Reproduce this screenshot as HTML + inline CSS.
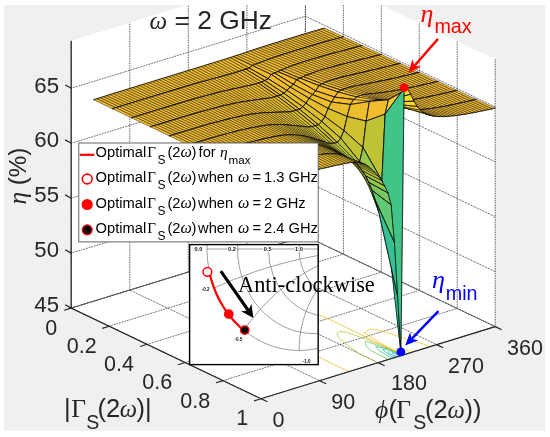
<!DOCTYPE html>
<html><head><meta charset="utf-8"><title>plot</title>
<style>html,body{margin:0;padding:0;background:#fff;overflow:hidden}svg{display:block}.g{stroke-width:.55;fill:none;stroke-linecap:round}</style>
</head><body>
<svg width="550" height="437" viewBox="0 0 550 437">
<rect x="0" y="0" width="550" height="437" fill="#fff"/>
<rect x="4" y="5" width="541" height="426" fill="#f0f0f0"/>
<defs><clipPath id="fig"><rect x="4" y="5" width="541" height="426"/></clipPath></defs>
<g clip-path="url(#fig)">
<polygon points="71.2,40.7 71.2,308.1 261,398.7 495.2,326.6 495.2,59.2 305.4,-31.4" fill="#fff"/>
<path d="M71.2 308.1L305.4 236M305.4 236L305.4 -31.4M109.2 326.2L343.4 254.1M343.4 254.1L343.4 -13.3M147.1 344.3L381.3 272.2M381.3 272.2L381.3 4.9M185.1 362.5L419.3 290.4M419.3 290.4L419.3 23M223 380.6L457.2 308.5M457.2 308.5L457.2 41.1M261 398.7L495.2 326.6M495.2 326.6L495.2 59.2M71.2 308.1L261 398.7M71.2 308.1L71.2 40.7M129.8 290.1L319.6 380.7M129.8 290.1L129.8 22.7M188.3 272.1L378.1 362.7M188.3 272.1L188.3 4.7M246.9 254L436.6 344.6M246.9 254L246.9 -13.4M305.4 236L495.2 326.6M305.4 236L305.4 -31.4M71.2 308.1L305.4 236M305.4 236L495.2 326.6M71.2 253.2L305.4 181.1M305.4 181.1L495.2 271.7M71.2 198.2L305.4 126.1M305.4 126.1L495.2 216.7M71.2 143.3L305.4 71.2M305.4 71.2L495.2 161.8M71.2 88.3L305.4 16.2M305.4 16.2L495.2 106.8" fill="none" stroke="#2a2a2a" stroke-width="0.9" stroke-dasharray="0.85 0.85"/>
<path d="M71.2 308.1L305.4 236" fill="none" stroke="#505050" stroke-width="0.9"/><path d="M305.4 236L495.2 326.6" fill="none" stroke="#666" stroke-width="0.75"/>
<polyline points="401.2,355.5 397.4,354 399.2,356.2" fill="none" stroke="#4559f4" stroke-width="0.8"/><polyline points="401.5,355.4 394.8,352.8 397.9,356.5" fill="none" stroke="#2f85f7" stroke-width="0.8"/><polyline points="401.8,355.4 392.3,351.5 393.5,354.7 396.6,356.9" fill="none" stroke="#18a8dd" stroke-width="0.8"/><polyline points="402.1,355.3 389.7,350.3 388,352 395.3,357.3" fill="none" stroke="#1bbcbc" stroke-width="0.8"/><polyline points="402.3,355.2 387.1,349.1 382.5,349.4 391.2,356.1 393.9,357.8" fill="none" stroke="#26bea6" stroke-width="0.8"/><polyline points="402.6,355.1 384.6,347.9 379.4,347.4 375.6,346.1 376.9,348.1 378.5,350.1 392,358.4" fill="none" stroke="#37c592" stroke-width="0.8"/><polyline points="402.9,355 382,346.6 381.8,346.6 365.3,341.2 364.8,343.5 367.1,347.2 370.1,350.2 388.4,359.5" fill="none" stroke="#6fca66" stroke-width="0.8"/><polyline points="403.1,354.9 382.9,346.3 365.5,338.8 362.1,337.8 346.5,332.2 339.5,331.5 337.5,333 337.2,335.5 340.7,339.7 344.9,343.1 347.8,345.6 359.4,353.5 372.1,359.8 378,362.7" fill="none" stroke="#b6c339" stroke-width="0.8"/><polyline points="403.4,354.9 384,345.9 365.3,336.8 346.6,327.6 327.7,318.6 307.4,309.9 297.2,306.2 285,302.9 282.7,302.6 277.5,301.9 274.3,302.9 271,303.9 268.9,305.4 268.6,306.9 268.2,307.7 267.6,309.9 267.2,312.2 267.4,314.9 268.2,317.9 270.1,321.3 270.1,321.4 272.2,324.9 275.4,328.9 279.4,333.4 279.4,333.4 289.2,340.7 293.9,343.8 311.5,353.3 329.9,362.6 349.1,371.6" fill="none" stroke="#e8be2c" stroke-width="0.8"/><polyline points="403.7,354.8 385.1,345.6 384.4,345.2 368.8,335.7 364.2,333 366.6,331.6 367.6,329.5 372.2,329.2 380.5,330.6 383.2,331.3 395.4,335.2 406.4,339 412.9,341 427.3,345.3 431,346.4" fill="none" stroke="#fac832" stroke-width="0.8"/><polyline points="404,354.7 396.8,351.1 396,348.2 403,349 413,351.9" fill="none" stroke="#f5eb23" stroke-width="0.8"/>
<g stroke="#000" stroke-width="0.45" stroke-linejoin="round"><polygon points="321.1,29 340.1,37.7 343.4,36.8 324.4,28.1" fill="#f4bd2e"/><path class="g" d="M321.1 29L324.4 28.1M340.1 37.7L343.4 36.8"/><polygon points="340.1,37.7 359.1,46.4 362.3,45.6 343.4,36.8" fill="#f4bd2e"/><path class="g" d="M340.1 37.7L343.4 36.8M359.1 46.4L362.3 45.6"/><polygon points="359.1,46.4 378.1,55.3 381.3,54.5 362.3,45.6" fill="#f4bd2e"/><path class="g" d="M359.1 46.4L362.3 45.6M378.1 55.3L381.3 54.5"/><polygon points="378.1,55.3 397,64.2 400.3,63.4 381.3,54.5" fill="#f4bd2e"/><path class="g" d="M378.1 55.3L381.3 54.5M397 64.2L400.3 63.4"/><polygon points="397,64.2 416,73.1 419.3,72.4 400.3,63.4" fill="#f5bd2f"/><path class="g" d="M397 64.2L400.3 63.4M416 73.1L419.3 72.4"/><polygon points="416,73.1 435,82.1 438.3,81.4 419.3,72.4" fill="#f5bd2f"/><path class="g" d="M416 73.1L419.3 72.4M435 82.1L438.3 81.4"/><polygon points="435,82.1 454,91.1 457.2,90.4 438.3,81.4" fill="#f5be2f"/><path class="g" d="M435 82.1L438.3 81.4M454 91.1L457.2 90.4"/><polygon points="454,91.1 473,100.2 476.2,99.4 457.2,90.4" fill="#f5be2f"/><path class="g" d="M454 91.1L457.2 90.4M473 100.2L476.2 99.4"/><polygon points="473,100.2 491.9,108.9 495.2,108.1 476.2,99.4" fill="#f5be2f"/><path class="g" d="M473 100.2L476.2 99.4M491.9 108.9L495.2 108.1"/><polygon points="317.9,30 336.9,38.6 340.1,37.7 321.1,29" fill="#f4bd2e"/><path class="g" d="M317.9 30L321.1 29M336.9 38.6L340.1 37.7"/><polygon points="336.9,38.6 355.8,47.3 359.1,46.4 340.1,37.7" fill="#f4bd2e"/><path class="g" d="M336.9 38.6L340.1 37.7M355.8 47.3L359.1 46.4"/><polygon points="355.8,47.3 374.8,56.1 378.1,55.3 359.1,46.4" fill="#f4bd2e"/><path class="g" d="M355.8 47.3L359.1 46.4M374.8 56.1L378.1 55.3"/><polygon points="374.8,56.1 393.8,65 397,64.2 378.1,55.3" fill="#f5bd2f"/><path class="g" d="M374.8 56.1L378.1 55.3M393.8 65L397 64.2"/><polygon points="393.8,65 412.8,73.9 416,73.1 397,64.2" fill="#f5be2f"/><path class="g" d="M393.8 65L397 64.2M412.8 73.9L416 73.1"/><polygon points="412.8,73.9 431.8,82.9 435,82.1 416,73.1" fill="#f5be2f"/><path class="g" d="M412.8 73.9L416 73.1M431.8 82.9L435 82.1"/><polygon points="431.8,82.9 450.7,91.9 454,91.1 435,82.1" fill="#f5be2f"/><path class="g" d="M431.8 82.9L435 82.1M450.7 91.9L454 91.1"/><polygon points="450.7,91.9 469.7,100.9 473,100.2 454,91.1" fill="#f5be2f"/><path class="g" d="M450.7 91.9L454 91.1M469.7 100.9L473 100.2"/><polygon points="469.7,100.9 488.7,109.6 491.9,108.9 473,100.2" fill="#f5be2f"/><path class="g" d="M469.7 100.9L473 100.2M488.7 109.6L491.9 108.9"/><polygon points="314.6,30.9 333.6,39.5 336.9,38.6 317.9,30" fill="#f4bd2e"/><path class="g" d="M314.6 30.9L317.9 30M333.6 39.5L336.9 38.6"/><polygon points="333.6,39.5 352.6,48.2 355.8,47.3 336.9,38.6" fill="#f4bd2e"/><path class="g" d="M333.6 39.5L336.9 38.6M352.6 48.2L355.8 47.3"/><polygon points="352.6,48.2 371.6,56.9 374.8,56.1 355.8,47.3" fill="#f5bd2f"/><path class="g" d="M352.6 48.2L355.8 47.3M371.6 56.9L374.8 56.1"/><polygon points="371.6,56.9 390.5,65.8 393.8,65 374.8,56.1" fill="#f5be2f"/><path class="g" d="M371.6 56.9L374.8 56.1M390.5 65.8L393.8 65"/><polygon points="390.5,65.8 409.5,74.7 412.8,73.9 393.8,65" fill="#f5be2f"/><path class="g" d="M390.5 65.8L393.8 65M409.5 74.7L412.8 73.9"/><polygon points="409.5,74.7 428.5,83.7 431.8,82.9 412.8,73.9" fill="#f5be2f"/><path class="g" d="M409.5 74.7L412.8 73.9M428.5 83.7L431.8 82.9"/><polygon points="428.5,83.7 447.5,92.7 450.7,91.9 431.8,82.9" fill="#f5be2f"/><path class="g" d="M428.5 83.7L431.8 82.9M447.5 92.7L450.7 91.9"/><polygon points="447.5,92.7 466.5,101.7 469.7,100.9 450.7,91.9" fill="#f5be2f"/><path class="g" d="M447.5 92.7L450.7 91.9M466.5 101.7L469.7 100.9"/><polygon points="466.5,101.7 485.4,110.3 488.7,109.6 469.7,100.9" fill="#f5be2f"/><path class="g" d="M466.5 101.7L469.7 100.9M485.4 110.3L488.7 109.6"/><polygon points="311.4,31.9 330.3,40.4 333.6,39.5 314.6,30.9" fill="#f4bd2e"/><path class="g" d="M311.4 31.9L314.6 30.9M330.3 40.4L333.6 39.5"/><polygon points="330.3,40.4 349.3,49 352.6,48.2 333.6,39.5" fill="#f4bd2e"/><path class="g" d="M330.3 40.4L333.6 39.5M349.3 49L352.6 48.2"/><polygon points="349.3,49 368.3,57.8 371.6,56.9 352.6,48.2" fill="#f5bd2f"/><path class="g" d="M349.3 49L352.6 48.2M368.3 57.8L371.6 56.9"/><polygon points="368.3,57.8 387.3,66.6 390.5,65.8 371.6,56.9" fill="#f5be2f"/><path class="g" d="M368.3 57.8L371.6 56.9M387.3 66.6L390.5 65.8"/><polygon points="387.3,66.6 406.3,75.5 409.5,74.7 390.5,65.8" fill="#f5be2f"/><path class="g" d="M387.3 66.6L390.5 65.8M406.3 75.5L409.5 74.7"/><polygon points="406.3,75.5 425.2,84.4 428.5,83.7 409.5,74.7" fill="#f5be2f"/><path class="g" d="M406.3 75.5L409.5 74.7M425.2 84.4L428.5 83.7"/><polygon points="425.2,84.4 444.2,93.4 447.5,92.7 428.5,83.7" fill="#f5be2f"/><path class="g" d="M425.2 84.4L428.5 83.7M444.2 93.4L447.5 92.7"/><polygon points="444.2,93.4 463.2,102.4 466.5,101.7 447.5,92.7" fill="#f5be2f"/><path class="g" d="M444.2 93.4L447.5 92.7M463.2 102.4L466.5 101.7"/><polygon points="463.2,102.4 482.2,110.9 485.4,110.3 466.5,101.7" fill="#f5be2f"/><path class="g" d="M463.2 102.4L466.5 101.7M482.2 110.9L485.4 110.3"/><polygon points="308.1,32.8 327.1,41.3 330.3,40.4 311.4,31.9" fill="#f4bd2e"/><path class="g" d="M308.1 32.8L311.4 31.9M327.1 41.3L330.3 40.4"/><polygon points="327.1,41.3 346.1,49.9 349.3,49 330.3,40.4" fill="#f4bd2e"/><path class="g" d="M327.1 41.3L330.3 40.4M346.1 49.9L349.3 49"/><polygon points="346.1,49.9 365.1,58.6 368.3,57.8 349.3,49" fill="#f5be2f"/><path class="g" d="M346.1 49.9L349.3 49M365.1 58.6L368.3 57.8"/><polygon points="365.1,58.6 384,67.4 387.3,66.6 368.3,57.8" fill="#f5be2f"/><path class="g" d="M365.1 58.6L368.3 57.8M384 67.4L387.3 66.6"/><polygon points="384,67.4 403,76.2 406.3,75.5 387.3,66.6" fill="#f5be2f"/><path class="g" d="M384 67.4L387.3 66.6M403 76.2L406.3 75.5"/><polygon points="403,76.2 422,85.2 425.2,84.4 406.3,75.5" fill="#f5be2f"/><path class="g" d="M403 76.2L406.3 75.5M422 85.2L425.2 84.4"/><polygon points="422,85.2 441,94.1 444.2,93.4 425.2,84.4" fill="#f5be2f"/><path class="g" d="M422 85.2L425.2 84.4M441 94.1L444.2 93.4"/><polygon points="441,94.1 460,103.1 463.2,102.4 444.2,93.4" fill="#f5be2f"/><path class="g" d="M441 94.1L444.2 93.4M460 103.1L463.2 102.4"/><polygon points="460,103.1 478.9,111.6 482.2,110.9 463.2,102.4" fill="#f5be2f"/><path class="g" d="M460 103.1L463.2 102.4M478.9 111.6L482.2 110.9"/><polygon points="304.9,33.8 323.8,42.2 327.1,41.3 308.1,32.8" fill="#f4bd2e"/><path class="g" d="M304.9 33.8L308.1 32.8M323.8 42.2L327.1 41.3"/><polygon points="323.8,42.2 342.8,50.7 346.1,49.9 327.1,41.3" fill="#f4bd2e"/><path class="g" d="M323.8 42.2L327.1 41.3M342.8 50.7L346.1 49.9"/><polygon points="342.8,50.7 361.8,59.4 365.1,58.6 346.1,49.9" fill="#f5be2f"/><path class="g" d="M342.8 50.7L346.1 49.9M361.8 59.4L365.1 58.6"/><polygon points="361.8,59.4 380.8,68.1 384,67.4 365.1,58.6" fill="#f5be2f"/><path class="g" d="M361.8 59.4L365.1 58.6M380.8 68.1L384 67.4"/><polygon points="380.8,68.1 399.8,77 403,76.2 384,67.4" fill="#f5be2f"/><path class="g" d="M380.8 68.1L384 67.4M399.8 77L403 76.2"/><polygon points="399.8,77 418.7,85.9 422,85.2 403,76.2" fill="#f5be2f"/><path class="g" d="M399.8 77L403 76.2M418.7 85.9L422 85.2"/><polygon points="418.7,85.9 437.7,94.8 441,94.1 422,85.2" fill="#f6be30"/><path class="g" d="M418.7 85.9L422 85.2M437.7 94.8L441 94.1"/><polygon points="437.7,94.8 456.7,103.8 460,103.1 441,94.1" fill="#f6be30"/><path class="g" d="M437.7 94.8L441 94.1M456.7 103.8L460 103.1"/><polygon points="456.7,103.8 475.7,112.3 478.9,111.6 460,103.1" fill="#f6be30"/><path class="g" d="M456.7 103.8L460 103.1M475.7 112.3L478.9 111.6"/><polygon points="301.6,34.7 320.6,43.1 323.8,42.2 304.9,33.8" fill="#f4bd2e"/><path class="g" d="M301.6 34.7L304.9 33.8M320.6 43.1L323.8 42.2"/><polygon points="320.6,43.1 339.6,51.6 342.8,50.7 323.8,42.2" fill="#f5bd2f"/><path class="g" d="M320.6 43.1L323.8 42.2M339.6 51.6L342.8 50.7"/><polygon points="339.6,51.6 358.6,60.2 361.8,59.4 342.8,50.7" fill="#f5be2f"/><path class="g" d="M339.6 51.6L342.8 50.7M358.6 60.2L361.8 59.4"/><polygon points="358.6,60.2 377.5,68.9 380.8,68.1 361.8,59.4" fill="#f5be2f"/><path class="g" d="M358.6 60.2L361.8 59.4M377.5 68.9L380.8 68.1"/><polygon points="377.5,68.9 396.5,77.7 399.8,77 380.8,68.1" fill="#f5be2f"/><path class="g" d="M377.5 68.9L380.8 68.1M396.5 77.7L399.8 77"/><polygon points="396.5,77.7 415.5,86.6 418.7,85.9 399.8,77" fill="#f6be30"/><path class="g" d="M396.5 77.7L399.8 77M415.5 86.6L418.7 85.9"/><polygon points="415.5,86.6 434.5,95.5 437.7,94.8 418.7,85.9" fill="#f6be30"/><path class="g" d="M415.5 86.6L418.7 85.9M434.5 95.5L437.7 94.8"/><polygon points="434.5,95.5 453.5,104.5 456.7,103.8 437.7,94.8" fill="#f6be30"/><path class="g" d="M434.5 95.5L437.7 94.8M453.5 104.5L456.7 103.8"/><polygon points="453.5,104.5 472.4,112.9 475.7,112.3 456.7,103.8" fill="#f6be30"/><path class="g" d="M453.5 104.5L456.7 103.8M472.4 112.9L475.7 112.3"/><polygon points="298.4,35.7 317.3,44 320.6,43.1 301.6,34.7" fill="#f4bd2e"/><path class="g" d="M298.4 35.7L301.6 34.7M317.3 44L320.6 43.1"/><polygon points="317.3,44 336.3,52.5 339.6,51.6 320.6,43.1" fill="#f5bd2f"/><path class="g" d="M317.3 44L320.6 43.1M336.3 52.5L339.6 51.6"/><polygon points="336.3,52.5 355.3,61 358.6,60.2 339.6,51.6" fill="#f5be2f"/><path class="g" d="M336.3 52.5L339.6 51.6M355.3 61L358.6 60.2"/><polygon points="355.3,61 374.3,69.7 377.5,68.9 358.6,60.2" fill="#f5be2f"/><path class="g" d="M355.3 61L358.6 60.2M374.3 69.7L377.5 68.9"/><polygon points="374.3,69.7 393.3,78.5 396.5,77.7 377.5,68.9" fill="#f6be30"/><path class="g" d="M374.3 69.7L377.5 68.9M393.3 78.5L396.5 77.7"/><polygon points="393.3,78.5 412.2,87.3 415.5,86.6 396.5,77.7" fill="#f6be30"/><path class="g" d="M393.3 78.5L396.5 77.7M412.2 87.3L415.5 86.6"/><polygon points="412.2,87.3 431.2,96.2 434.5,95.5 415.5,86.6" fill="#f6be30"/><path class="g" d="M412.2 87.3L415.5 86.6M431.2 96.2L434.5 95.5"/><polygon points="431.2,96.2 450.2,105.2 453.5,104.5 434.5,95.5" fill="#f6be30"/><path class="g" d="M431.2 96.2L434.5 95.5M450.2 105.2L453.5 104.5"/><polygon points="450.2,105.2 469.2,113.5 472.4,112.9 453.5,104.5" fill="#f6be30"/><path class="g" d="M450.2 105.2L453.5 104.5M469.2 113.5L472.4 112.9"/><polygon points="295.1,36.7 314.1,45 317.3,44 298.4,35.7" fill="#f4bd2e"/><path class="g" d="M295.1 36.7L298.4 35.7M314.1 45L317.3 44"/><polygon points="314.1,45 333.1,53.3 336.3,52.5 317.3,44" fill="#f5bd2f"/><path class="g" d="M314.1 45L317.3 44M333.1 53.3L336.3 52.5"/><polygon points="333.1,53.3 352,61.8 355.3,61 336.3,52.5" fill="#f5be2f"/><path class="g" d="M333.1 53.3L336.3 52.5M352 61.8L355.3 61"/><polygon points="352,61.8 371,70.4 374.3,69.7 355.3,61" fill="#f5be2f"/><path class="g" d="M352 61.8L355.3 61M371 70.4L374.3 69.7"/><polygon points="371,70.4 390,79.2 393.3,78.5 374.3,69.7" fill="#f6be30"/><path class="g" d="M371 70.4L374.3 69.7M390 79.2L393.3 78.5"/><polygon points="390,79.2 409,88 412.2,87.3 393.3,78.5" fill="#f6be30"/><path class="g" d="M390 79.2L393.3 78.5M409 88L412.2 87.3"/><polygon points="409,88 428,96.9 431.2,96.2 412.2,87.3" fill="#f6be30"/><path class="g" d="M409 88L412.2 87.3M428 96.9L431.2 96.2"/><polygon points="428,96.9 446.9,105.9 450.2,105.2 431.2,96.2" fill="#f6be30"/><path class="g" d="M428 96.9L431.2 96.2M446.9 105.9L450.2 105.2"/><polygon points="446.9,105.9 465.9,114.1 469.2,113.5 450.2,105.2" fill="#f6be30"/><path class="g" d="M446.9 105.9L450.2 105.2M465.9 114.1L469.2 113.5"/><polygon points="291.9,37.7 310.8,45.9 314.1,45 295.1,36.7" fill="#f4bd2e"/><path class="g" d="M291.9 37.7L295.1 36.7M310.8 45.9L314.1 45"/><polygon points="310.8,45.9 329.8,54.2 333.1,53.3 314.1,45" fill="#f5bd2f"/><path class="g" d="M310.8 45.9L314.1 45M329.8 54.2L333.1 53.3"/><polygon points="329.8,54.2 348.8,62.6 352,61.8 333.1,53.3" fill="#f5be2f"/><path class="g" d="M329.8 54.2L333.1 53.3M348.8 62.6L352 61.8"/><polygon points="348.8,62.6 367.8,71.2 371,70.4 352,61.8" fill="#f6be30"/><path class="g" d="M348.8 62.6L352 61.8M367.8 71.2L371 70.4"/><polygon points="367.8,71.2 386.8,79.9 390,79.2 371,70.4" fill="#f6be30"/><path class="g" d="M367.8 71.2L371 70.4M386.8 79.9L390 79.2"/><polygon points="386.8,79.9 405.7,88.7 409,88 390,79.2" fill="#f6be30"/><path class="g" d="M386.8 79.9L390 79.2M405.7 88.7L409 88"/><polygon points="405.7,88.7 424.7,97.5 428,96.9 409,88" fill="#f6be30"/><path class="g" d="M405.7 88.7L409 88M424.7 97.5L428 96.9"/><polygon points="424.7,97.5 443.7,106.5 446.9,105.9 428,96.9" fill="#f7bf31"/><path class="g" d="M424.7 97.5L428 96.9M443.7 106.5L446.9 105.9"/><polygon points="443.7,106.5 462.7,114.6 465.9,114.1 446.9,105.9" fill="#f7bf31"/><path class="g" d="M443.7 106.5L446.9 105.9M462.7 114.6L465.9 114.1"/><polygon points="288.6,38.7 307.6,46.8 310.8,45.9 291.9,37.7" fill="#f4bd2e"/><path class="g" d="M288.6 38.7L291.9 37.7M307.6 46.8L310.8 45.9"/><polygon points="307.6,46.8 326.6,55.1 329.8,54.2 310.8,45.9" fill="#f5be2f"/><path class="g" d="M307.6 46.8L310.8 45.9M326.6 55.1L329.8 54.2"/><polygon points="326.6,55.1 345.5,63.5 348.8,62.6 329.8,54.2" fill="#f5be2f"/><path class="g" d="M326.6 55.1L329.8 54.2M345.5 63.5L348.8 62.6"/><polygon points="345.5,63.5 364.5,72 367.8,71.2 348.8,62.6" fill="#f6be30"/><path class="g" d="M345.5 63.5L348.8 62.6M364.5 72L367.8 71.2"/><polygon points="364.5,72 383.5,80.6 386.8,79.9 367.8,71.2" fill="#f6be30"/><path class="g" d="M364.5 72L367.8 71.2M383.5 80.6L386.8 79.9"/><polygon points="383.5,80.6 402.5,89.3 405.7,88.7 386.8,79.9" fill="#f6be30"/><path class="g" d="M383.5 80.6L386.8 79.9M402.5 89.3L405.7 88.7"/><polygon points="402.5,89.3 421.5,98.1 424.7,97.5 405.7,88.7" fill="#f7bf31"/><path class="g" d="M402.5 89.3L405.7 88.7M421.5 98.1L424.7 97.5"/><polygon points="421.5,98.1 440.4,107.1 443.7,106.5 424.7,97.5" fill="#f7bf31"/><path class="g" d="M421.5 98.1L424.7 97.5M440.4 107.1L443.7 106.5"/><polygon points="440.4,107.1 459.4,115.1 462.7,114.6 443.7,106.5" fill="#f7bf31"/><path class="g" d="M440.4 107.1L443.7 106.5M459.4 115.1L462.7 114.6"/><polygon points="285.3,39.7 304.3,47.8 307.6,46.8 288.6,38.7" fill="#f4bd2e"/><path class="g" d="M285.3 39.7L288.6 38.7M304.3 47.8L307.6 46.8"/><polygon points="304.3,47.8 323.3,56 326.6,55.1 307.6,46.8" fill="#f5be2f"/><path class="g" d="M304.3 47.8L307.6 46.8M323.3 56L326.6 55.1"/><polygon points="323.3,56 342.3,64.3 345.5,63.5 326.6,55.1" fill="#f5be2f"/><path class="g" d="M323.3 56L326.6 55.1M342.3 64.3L345.5 63.5"/><polygon points="342.3,64.3 361.3,72.7 364.5,72 345.5,63.5" fill="#f6be30"/><path class="g" d="M342.3 64.3L345.5 63.5M361.3 72.7L364.5 72"/><polygon points="361.3,72.7 380.2,81.2 383.5,80.6 364.5,72" fill="#f6be30"/><path class="g" d="M361.3 72.7L364.5 72M380.2 81.2L383.5 80.6"/><polygon points="380.2,81.2 399.2,89.9 402.5,89.3 383.5,80.6" fill="#f7bf31"/><path class="g" d="M380.2 81.2L383.5 80.6M399.2 89.9L402.5 89.3"/><polygon points="399.2,89.9 418.2,98.7 421.5,98.1 402.5,89.3" fill="#f7bf31"/><path class="g" d="M399.2 89.9L402.5 89.3M418.2 98.7L421.5 98.1"/><polygon points="418.2,98.7 437.2,107.6 440.4,107.1 421.5,98.1" fill="#f7bf31"/><path class="g" d="M418.2 98.7L421.5 98.1M437.2 107.6L440.4 107.1"/><polygon points="437.2,107.6 456.2,115.5 459.4,115.1 440.4,107.1" fill="#f7bf31"/><path class="g" d="M437.2 107.6L440.4 107.1M456.2 115.5L459.4 115.1"/><polygon points="282.1,40.7 301.1,48.8 304.3,47.8 285.3,39.7" fill="#f4bd2e"/><path class="g" d="M282.1 40.7L285.3 39.7M301.1 48.8L304.3 47.8"/><polygon points="301.1,48.8 320.1,56.9 323.3,56 304.3,47.8" fill="#f5be2f"/><path class="g" d="M301.1 48.8L304.3 47.8M320.1 56.9L323.3 56"/><polygon points="320.1,56.9 339,65.1 342.3,64.3 323.3,56" fill="#f5be2f"/><path class="g" d="M320.1 56.9L323.3 56M339 65.1L342.3 64.3"/><polygon points="339,65.1 358,73.4 361.3,72.7 342.3,64.3" fill="#f6be30"/><path class="g" d="M339 65.1L342.3 64.3M358 73.4L361.3 72.7"/><polygon points="358,73.4 377,81.9 380.2,81.2 361.3,72.7" fill="#f6be30"/><path class="g" d="M358 73.4L361.3 72.7M377 81.9L380.2 81.2"/><polygon points="377,81.9 396,90.5 399.2,89.9 380.2,81.2" fill="#f7bf31"/><path class="g" d="M377 81.9L380.2 81.2M396 90.5L399.2 89.9"/><polygon points="396,90.5 415,99.3 418.2,98.7 399.2,89.9" fill="#f7bf31"/><path class="g" d="M396 90.5L399.2 89.9M415 99.3L418.2 98.7"/><polygon points="415,99.3 433.9,108.1 437.2,107.6 418.2,98.7" fill="#f7bf31"/><path class="g" d="M415 99.3L418.2 98.7M433.9 108.1L437.2 107.6"/><polygon points="433.9,108.1 452.9,115.9 456.2,115.5 437.2,107.6" fill="#f8bf32"/><path class="g" d="M433.9 108.1L437.2 107.6M452.9 115.9L456.2 115.5"/><polygon points="278.8,41.7 297.8,49.7 301.1,48.8 282.1,40.7" fill="#f4bd2e"/><path class="g" d="M278.8 41.7L282.1 40.7M297.8 49.7L301.1 48.8"/><polygon points="297.8,49.7 316.8,57.8 320.1,56.9 301.1,48.8" fill="#f5be2f"/><path class="g" d="M297.8 49.7L301.1 48.8M316.8 57.8L320.1 56.9"/><polygon points="316.8,57.8 335.8,65.9 339,65.1 320.1,56.9" fill="#f5be2f"/><path class="g" d="M316.8 57.8L320.1 56.9M335.8 65.9L339 65.1"/><polygon points="335.8,65.9 354.8,74.2 358,73.4 339,65.1" fill="#f6be30"/><path class="g" d="M335.8 65.9L339 65.1M354.8 74.2L358 73.4"/><polygon points="354.8,74.2 373.7,82.5 377,81.9 358,73.4" fill="#f7bf31"/><path class="g" d="M354.8 74.2L358 73.4M373.7 82.5L377 81.9"/><polygon points="373.7,82.5 392.7,91.1 396,90.5 377,81.9" fill="#f7bf31"/><path class="g" d="M373.7 82.5L377 81.9M392.7 91.1L396 90.5"/><polygon points="392.7,91.1 411.7,99.8 415,99.3 396,90.5" fill="#f8bf32"/><path class="g" d="M392.7 91.1L396 90.5M411.7 99.8L415 99.3"/><polygon points="411.7,99.8 430.7,108.6 433.9,108.1 415,99.3" fill="#f8bf32"/><path class="g" d="M411.7 99.8L415 99.3M430.7 108.6L433.9 108.1"/><polygon points="430.7,108.6 449.7,116.3 452.9,115.9 433.9,108.1" fill="#f8bf32"/><path class="g" d="M430.7 108.6L433.9 108.1M449.7 116.3L452.9 115.9"/><polygon points="275.6,42.7 294.6,50.7 297.8,49.7 278.8,41.7" fill="#f4bd2e"/><path class="g" d="M275.6 42.7L278.8 41.7M294.6 50.7L297.8 49.7"/><polygon points="294.6,50.7 313.5,58.8 316.8,57.8 297.8,49.7" fill="#f5be2f"/><path class="g" d="M294.6 50.7L297.8 49.7M313.5 58.8L316.8 57.8"/><polygon points="313.5,58.8 332.5,66.8 335.8,65.9 316.8,57.8" fill="#f6be30"/><path class="g" d="M313.5 58.8L316.8 57.8M332.5 66.8L335.8 65.9"/><polygon points="332.5,66.8 351.5,74.9 354.8,74.2 335.8,65.9" fill="#f6be30"/><path class="g" d="M332.5 66.8L335.8 65.9M351.5 74.9L354.8 74.2"/><polygon points="351.5,74.9 370.5,83.2 373.7,82.5 354.8,74.2" fill="#f7bf31"/><path class="g" d="M351.5 74.9L354.8 74.2M370.5 83.2L373.7 82.5"/><polygon points="370.5,83.2 389.5,91.6 392.7,91.1 373.7,82.5" fill="#f7bf31"/><path class="g" d="M370.5 83.2L373.7 82.5M389.5 91.6L392.7 91.1"/><polygon points="389.5,91.6 408.4,100.2 411.7,99.8 392.7,91.1" fill="#f8bf32"/><path class="g" d="M389.5 91.6L392.7 91.1M408.4 100.2L411.7 99.8"/><polygon points="408.4,100.2 427.4,109 430.7,108.6 411.7,99.8" fill="#f8bf32"/><path class="g" d="M408.4 100.2L411.7 99.8M427.4 109L430.7 108.6"/><polygon points="427.4,109 446.4,116.5 449.7,116.3 430.7,108.6" fill="#f8c032"/><path class="g" d="M427.4 109L430.7 108.6M446.4 116.5L449.7 116.3"/><polygon points="272.3,43.7 291.3,51.8 294.6,50.7 275.6,42.7" fill="#f4bd2e"/><path class="g" d="M272.3 43.7L275.6 42.7M291.3 51.8L294.6 50.7"/><polygon points="291.3,51.8 310.3,59.7 313.5,58.8 294.6,50.7" fill="#f5be2f"/><path class="g" d="M291.3 51.8L294.6 50.7M310.3 59.7L313.5 58.8"/><polygon points="310.3,59.7 329.3,67.7 332.5,66.8 313.5,58.8" fill="#f6be30"/><path class="g" d="M310.3 59.7L313.5 58.8M329.3 67.7L332.5 66.8"/><polygon points="329.3,67.7 348.3,75.7 351.5,74.9 332.5,66.8" fill="#f6be30"/><path class="g" d="M329.3 67.7L332.5 66.8M348.3 75.7L351.5 74.9"/><polygon points="348.3,75.7 367.2,83.8 370.5,83.2 351.5,74.9" fill="#f7bf31"/><path class="g" d="M348.3 75.7L351.5 74.9M367.2 83.8L370.5 83.2"/><polygon points="367.2,83.8 386.2,92.1 389.5,91.6 370.5,83.2" fill="#f8bf32"/><path class="g" d="M367.2 83.8L370.5 83.2M386.2 92.1L389.5 91.6"/><polygon points="386.2,92.1 405.2,100.6 408.4,100.2 389.5,91.6" fill="#f8bf32"/><path class="g" d="M386.2 92.1L389.5 91.6M405.2 100.6L408.4 100.2"/><polygon points="405.2,100.6 424.2,109.3 427.4,109 408.4,100.2" fill="#f9c033"/><path class="g" d="M405.2 100.6L408.4 100.2M424.2 109.3L427.4 109"/><polygon points="424.2,109.3 443.2,116.6 446.4,116.5 427.4,109" fill="#f9c033"/><path class="g" d="M424.2 109.3L427.4 109M443.2 116.6L446.4 116.5"/><polygon points="269.1,44.7 288.1,52.8 291.3,51.8 272.3,43.7" fill="#f4bd2e"/><path class="g" d="M269.1 44.7L272.3 43.7M288.1 52.8L291.3 51.8"/><polygon points="288.1,52.8 307,60.7 310.3,59.7 291.3,51.8" fill="#f5be2f"/><path class="g" d="M288.1 52.8L291.3 51.8M307 60.7L310.3 59.7"/><polygon points="307,60.7 326,68.6 329.3,67.7 310.3,59.7" fill="#f6be30"/><path class="g" d="M307 60.7L310.3 59.7M326 68.6L329.3 67.7"/><polygon points="326,68.6 345,76.4 348.3,75.7 329.3,67.7" fill="#f6be30"/><path class="g" d="M326 68.6L329.3 67.7M345 76.4L348.3 75.7"/><polygon points="345,76.4 364,84.4 367.2,83.8 348.3,75.7" fill="#f7bf31"/><path class="g" d="M345 76.4L348.3 75.7M364 84.4L367.2 83.8"/><polygon points="364,84.4 383,92.5 386.2,92.1 367.2,83.8" fill="#f8bf32"/><path class="g" d="M364 84.4L367.2 83.8M383 92.5L386.2 92.1"/><polygon points="383,92.5 401.9,100.9 405.2,100.6 386.2,92.1" fill="#f9c033"/><path class="g" d="M383 92.5L386.2 92.1M401.9 100.9L405.2 100.6"/><polygon points="401.9,100.9 420.9,109.5 424.2,109.3 405.2,100.6" fill="#f9c033"/><path class="g" d="M401.9 100.9L405.2 100.6M420.9 109.5L424.2 109.3"/><polygon points="420.9,109.5 439.9,116.6 443.2,116.6 424.2,109.3" fill="#f9c033"/><path class="g" d="M420.9 109.5L424.2 109.3M439.9 116.6L443.2 116.6"/><polygon points="265.8,45.8 284.8,53.8 288.1,52.8 269.1,44.7" fill="#f4bd2e"/><path class="g" d="M265.8 45.8L269.1 44.7M284.8 53.8L288.1 52.8"/><polygon points="284.8,53.8 303.8,61.7 307,60.7 288.1,52.8" fill="#f5be2f"/><path class="g" d="M284.8 53.8L288.1 52.8M303.8 61.7L307 60.7"/><polygon points="303.8,61.7 322.8,69.5 326,68.6 307,60.7" fill="#f6be30"/><path class="g" d="M303.8 61.7L307 60.7M322.8 69.5L326 68.6"/><polygon points="322.8,69.5 341.8,77.2 345,76.4 326,68.6" fill="#f6be30"/><path class="g" d="M322.8 69.5L326 68.6M341.8 77.2L345 76.4"/><polygon points="341.8,77.2 360.7,85 364,84.4 345,76.4" fill="#f7bf31"/><path class="g" d="M341.8 77.2L345 76.4M360.7 85L364 84.4"/><polygon points="360.7,85 379.7,92.9 383,92.5 364,84.4" fill="#f8bf32"/><path class="g" d="M360.7 85L364 84.4M379.7 92.9L383 92.5"/><polygon points="379.7,92.9 398.7,101.1 401.9,100.9 383,92.5" fill="#f9c033"/><path class="g" d="M379.7 92.9L383 92.5M398.7 101.1L401.9 100.9"/><polygon points="398.7,101.1 417.7,109.6 420.9,109.5 401.9,100.9" fill="#fac034"/><path class="g" d="M398.7 101.1L401.9 100.9M417.7 109.6L420.9 109.5"/><polygon points="417.7,109.6 436.6,116.5 439.9,116.6 420.9,109.5" fill="#fac034"/><path class="g" d="M417.7 109.6L420.9 109.5M436.6 116.5L439.9 116.6"/><polygon points="262.6,46.8 281.6,54.9 284.8,53.8 265.8,45.8" fill="#f4bd2e"/><path class="g" d="M262.6 46.8L265.8 45.8M281.6 54.9L284.8 53.8"/><polygon points="281.6,54.9 300.5,62.8 303.8,61.7 284.8,53.8" fill="#f5bd2f"/><path class="g" d="M281.6 54.9L284.8 53.8M300.5 62.8L303.8 61.7"/><polygon points="300.5,62.8 319.5,70.5 322.8,69.5 303.8,61.7" fill="#f5be2f"/><path class="g" d="M300.5 62.8L303.8 61.7M319.5 70.5L322.8 69.5"/><polygon points="319.5,70.5 338.5,78.1 341.8,77.2 322.8,69.5" fill="#f6be30"/><path class="g" d="M319.5 70.5L322.8 69.5M338.5 78.1L341.8 77.2"/><polygon points="338.5,78.1 357.5,85.6 360.7,85 341.8,77.2" fill="#f7bf31"/><path class="g" d="M338.5 78.1L341.8 77.2M357.5 85.6L360.7 85"/><polygon points="357.5,85.6 376.5,93.3 379.7,92.9 360.7,85" fill="#f8c032"/><path class="g" d="M357.5 85.6L360.7 85M376.5 93.3L379.7 92.9"/><polygon points="376.5,93.3 395.4,101.2 398.7,101.1 379.7,92.9" fill="#f9c033"/><path class="g" d="M376.5 93.3L379.7 92.9M395.4 101.2L398.7 101.1"/><polygon points="395.4,101.2 414.4,109.5 417.7,109.6 398.7,101.1" fill="#fac134"/><path class="g" d="M395.4 101.2L398.7 101.1M414.4 109.5L417.7 109.6"/><polygon points="414.4,109.5 433.4,116.1 436.6,116.5 417.7,109.6" fill="#fbc135"/><path class="g" d="M414.4 109.5L417.7 109.6M433.4 116.1L436.6 116.5"/><polygon points="259.3,47.9 278.3,56 281.6,54.9 262.6,46.8" fill="#f4bd2e"/><path class="g" d="M259.3 47.9L262.6 46.8M278.3 56L281.6 54.9"/><polygon points="278.3,56 297.3,63.9 300.5,62.8 281.6,54.9" fill="#f5bd2f"/><path class="g" d="M278.3 56L281.6 54.9M297.3 63.9L300.5 62.8"/><polygon points="297.3,63.9 316.3,71.5 319.5,70.5 300.5,62.8" fill="#f5be2f"/><path class="g" d="M297.3 63.9L300.5 62.8M316.3 71.5L319.5 70.5"/><polygon points="316.3,71.5 335.2,79 338.5,78.1 319.5,70.5" fill="#f6be30"/><path class="g" d="M316.3 71.5L319.5 70.5M335.2 79L338.5 78.1"/><polygon points="335.2,79 354.2,86.3 357.5,85.6 338.5,78.1" fill="#f8bf32"/><path class="g" d="M335.2 79L338.5 78.1M354.2 86.3L357.5 85.6"/><polygon points="354.2,86.3 373.2,93.6 376.5,93.3 357.5,85.6" fill="#f9c033"/><path class="g" d="M354.2 86.3L357.5 85.6M373.2 93.6L376.5 93.3"/><polygon points="373.2,93.6 392.2,101.2 395.4,101.2 376.5,93.3" fill="#fac034"/><path class="g" d="M373.2 93.6L376.5 93.3M392.2 101.2L395.4 101.2"/><polygon points="392.2,101.2 411.2,109.2 414.4,109.5 395.4,101.2" fill="#fbc135"/><path class="g" d="M392.2 101.2L395.4 101.2M411.2 109.2L414.4 109.5"/><polygon points="411.2,109.2 430.1,115.4 433.4,116.1 414.4,109.5" fill="#fbc334"/><path class="g" d="M411.2 109.2L414.4 109.5M430.1 115.4L433.4 116.1"/><polygon points="256.1,48.9 275.1,57.1 278.3,56 259.3,47.9" fill="#f4bd2e"/><path class="g" d="M256.1 48.9L259.3 47.9M275.1 57.1L278.3 56"/><polygon points="275.1,57.1 294,65.1 297.3,63.9 278.3,56" fill="#f5bd2f"/><path class="g" d="M275.1 57.1L278.3 56M294 65.1L297.3 63.9"/><polygon points="294,65.1 313,72.7 316.3,71.5 297.3,63.9" fill="#f5be2f"/><path class="g" d="M294 65.1L297.3 63.9M313 72.7L316.3 71.5"/><polygon points="313,72.7 332,80 335.2,79 316.3,71.5" fill="#f6be30"/><path class="g" d="M313 72.7L316.3 71.5M332 80L335.2 79"/><polygon points="332,80 351,87 354.2,86.3 335.2,79" fill="#f8bf32"/><path class="g" d="M332 80L335.2 79M351 87L354.2 86.3"/><polygon points="351,87 370,93.9 373.2,93.6 354.2,86.3" fill="#f9c033"/><path class="g" d="M351 87L354.2 86.3M370 93.9L373.2 93.6"/><polygon points="370,93.9 388.9,101.1 392.2,101.2 373.2,93.6" fill="#fac134"/><path class="g" d="M370 93.9L373.2 93.6M388.9 101.1L392.2 101.2"/><polygon points="388.9,101.1 407.9,108.7 411.2,109.2 392.2,101.2" fill="#fbc334"/><path class="g" d="M388.9 101.1L392.2 101.2M407.9 108.7L411.2 109.2"/><polygon points="407.9,108.7 426.9,114.3 430.1,115.4 411.2,109.2" fill="#fac633"/><path class="g" d="M407.9 108.7L411.2 109.2M426.9 114.3L430.1 115.4"/><polygon points="252.8,50 271.8,58.3 275.1,57.1 256.1,48.9" fill="#f4bd2e"/><path class="g" d="M252.8 50L256.1 48.9M271.8 58.3L275.1 57.1"/><polygon points="271.8,58.3 290.8,66.3 294,65.1 275.1,57.1" fill="#f4bd2e"/><path class="g" d="M271.8 58.3L275.1 57.1M290.8 66.3L294 65.1"/><polygon points="290.8,66.3 309.8,73.9 313,72.7 294,65.1" fill="#f5be2f"/><path class="g" d="M290.8 66.3L294 65.1M309.8 73.9L313 72.7"/><polygon points="309.8,73.9 328.7,81.1 332,80 313,72.7" fill="#f6be30"/><path class="g" d="M309.8 73.9L313 72.7M328.7 81.1L332 80"/><polygon points="328.7,81.1 347.7,87.8 351,87 332,80" fill="#f7bf31"/><path class="g" d="M328.7 81.1L332 80M347.7 87.8L351 87"/><polygon points="347.7,87.8 366.7,94.3 370,93.9 351,87" fill="#f9c033"/><path class="g" d="M347.7 87.8L351 87M366.7 94.3L370 93.9"/><polygon points="366.7,94.3 385.7,100.8 388.9,101.1 370,93.9" fill="#fbc135"/><path class="g" d="M366.7 94.3L370 93.9M385.7 100.8L388.9 101.1"/><polygon points="385.7,100.8 404.7,107.8 407.9,108.7 388.9,101.1" fill="#fac533"/><path class="g" d="M385.7 100.8L388.9 101.1M404.7 107.8L407.9 108.7"/><polygon points="404.7,107.8 423.6,112.6 426.9,114.3 407.9,108.7" fill="#fac931"/><path class="g" d="M404.7 107.8L407.9 108.7M423.6 112.6L426.9 114.3"/><polygon points="249.6,51.1 268.5,59.4 271.8,58.3 252.8,50" fill="#f4bd2e"/><path class="g" d="M249.6 51.1L252.8 50M268.5 59.4L271.8 58.3"/><polygon points="268.5,59.4 287.5,67.5 290.8,66.3 271.8,58.3" fill="#f4bd2e"/><path class="g" d="M268.5 59.4L271.8 58.3M287.5 67.5L290.8 66.3"/><polygon points="287.5,67.5 306.5,75.2 309.8,73.9 290.8,66.3" fill="#f5be2f"/><path class="g" d="M287.5 67.5L290.8 66.3M306.5 75.2L309.8 73.9"/><polygon points="306.5,75.2 325.5,82.3 328.7,81.1 309.8,73.9" fill="#f6be30"/><path class="g" d="M306.5 75.2L309.8 73.9M325.5 82.3L328.7 81.1"/><polygon points="325.5,82.3 344.5,88.9 347.7,87.8 328.7,81.1" fill="#f7bf31"/><path class="g" d="M325.5 82.3L328.7 81.1M344.5 88.9L347.7 87.8"/><polygon points="344.5,88.9 363.4,94.8 366.7,94.3 347.7,87.8" fill="#f9c033"/><path class="g" d="M344.5 88.9L347.7 87.8M363.4 94.8L366.7 94.3"/><polygon points="363.4,94.8 382.4,100.4 385.7,100.8 366.7,94.3" fill="#fbc135"/><path class="g" d="M363.4 94.8L366.7 94.3M382.4 100.4L385.7 100.8"/><polygon points="382.4,100.4 401.4,106.4 404.7,107.8 385.7,100.8" fill="#fac832"/><path class="g" d="M382.4 100.4L385.7 100.8M401.4 106.4L404.7 107.8"/><polygon points="401.4,106.4 420.4,110.1 423.6,112.6 404.7,107.8" fill="#f9ce2f"/><path class="g" d="M401.4 106.4L404.7 107.8M420.4 110.1L423.6 112.6"/><polygon points="246.3,52.2 265.3,60.6 268.5,59.4 249.6,51.1" fill="#f4bd2e"/><path class="g" d="M246.3 52.2L249.6 51.1M265.3 60.6L268.5 59.4"/><polygon points="265.3,60.6 284.3,68.8 287.5,67.5 268.5,59.4" fill="#f4bd2e"/><path class="g" d="M265.3 60.6L268.5 59.4M284.3 68.8L287.5 67.5"/><polygon points="284.3,68.8 303.3,76.6 306.5,75.2 287.5,67.5" fill="#f5be2f"/><path class="g" d="M284.3 68.8L287.5 67.5M303.3 76.6L306.5 75.2"/><polygon points="303.3,76.6 322.2,83.8 325.5,82.3 306.5,75.2" fill="#f6be30"/><path class="g" d="M303.3 76.6L306.5 75.2M322.2 83.8L325.5 82.3"/><polygon points="322.2,83.8 341.2,90.2 344.5,88.9 325.5,82.3" fill="#f7bf31"/><path class="g" d="M322.2 83.8L325.5 82.3M341.2 90.2L344.5 88.9"/><polygon points="341.2,90.2 360.2,95.6 363.4,94.8 344.5,88.9" fill="#f9c033"/><path class="g" d="M341.2 90.2L344.5 88.9M360.2 95.6L363.4 94.8"/><polygon points="360.2,95.6 379.2,100 382.4,100.4 363.4,94.8" fill="#fbc235"/><path class="g" d="M360.2 95.6L363.4 94.8M379.2 100L382.4 100.4"/><polygon points="379.2,100 398.2,104.5 401.4,106.4 382.4,100.4" fill="#f9cb31"/><path class="g" d="M379.2 100L382.4 100.4M398.2 104.5L401.4 106.4"/><polygon points="398.2,104.5 417.1,106.4 420.4,110.1 401.4,106.4" fill="#f8d42d"/><path class="g" d="M398.2 104.5L401.4 106.4M417.1 106.4L420.4 110.1"/><polygon points="243.1,53.3 262,61.8 265.3,60.6 246.3,52.2" fill="#f4bd2e"/><path class="g" d="M243.1 53.3L246.3 52.2M262 61.8L265.3 60.6"/><polygon points="262,61.8 281,70.2 284.3,68.8 265.3,60.6" fill="#f4bd2e"/><path class="g" d="M262 61.8L265.3 60.6M281 70.2L284.3 68.8"/><polygon points="281,70.2 300,78.2 303.3,76.6 284.3,68.8" fill="#f5bd2f"/><path class="g" d="M281 70.2L284.3 68.8M300 78.2L303.3 76.6"/><polygon points="300,78.2 319,85.6 322.2,83.8 303.3,76.6" fill="#f5be2f"/><path class="g" d="M300 78.2L303.3 76.6M319 85.6L322.2 83.8"/><path class="g" d="M300 78.2L319 85.6M303.3 76.6L322.2 83.8"/><polygon points="319,85.6 338,92 341.2,90.2 322.2,83.8" fill="#f6be30"/><path class="g" d="M319 85.6L322.2 83.8M338 92L341.2 90.2"/><path class="g" d="M319 85.6L338 92M322.2 83.8L341.2 90.2"/><polygon points="338,92 356.9,97 360.2,95.6 341.2,90.2" fill="#f8bf32"/><path class="g" d="M338 92L341.2 90.2M356.9 97L360.2 95.6"/><polygon points="356.9,97 375.9,100.1 379.2,100 360.2,95.6" fill="#fbc135"/><path class="g" d="M356.9 97L360.2 95.6M375.9 100.1L379.2 100"/><polygon points="375.9,100.1 394.9,101.9 398.2,104.5 379.2,100" fill="#f9cd30"/><path class="g" d="M375.9 100.1L379.2 100M394.9 101.9L398.2 104.5"/><polygon points="394.9,101.9 413.9,101 417.1,106.4 398.2,104.5" fill="#f7db2a"/><path class="g" d="M394.9 101.9L398.2 104.5M413.9 101L417.1 106.4"/><path class="g" d="M394.9 101.9L413.9 101M398.2 104.5L417.1 106.4"/><polygon points="239.8,54.4 258.8,63.1 262,61.8 243.1,53.3" fill="#f4bd2e"/><path class="g" d="M239.8 54.4L243.1 53.3M258.8 63.1L262 61.8"/><polygon points="258.8,63.1 277.8,71.6 281,70.2 262,61.8" fill="#f4bd2e"/><path class="g" d="M258.8 63.1L262 61.8M277.8 71.6L281 70.2"/><polygon points="277.8,71.6 296.7,79.8 300,78.2 281,70.2" fill="#f4bd2e"/><path class="g" d="M277.8 71.6L281 70.2M296.7 79.8L300 78.2"/><path class="g" d="M277.8 71.6L296.7 79.8M281 70.2L300 78.2"/><polygon points="296.7,79.8 315.7,90.8 319,85.6 300,78.2" fill="#f5be2f"/><path class="g" d="M296.7 79.8L300 78.2M315.7 90.8L319 85.6"/><path class="g" d="M296.7 79.8L315.7 90.8M300 78.2L319 85.6"/><polygon points="315.7,90.8 334.7,97.1 338,92 319,85.6" fill="#f4bd2e"/><path class="g" d="M315.7 90.8L319 85.6M334.7 97.1L338 92"/><path class="g" d="M315.7 90.8L334.7 97.1M319 85.6L338 92"/><polygon points="334.7,97.1 353.7,99.5 356.9,97 338,92" fill="#f5be2f"/><path class="g" d="M334.7 97.1L338 92M353.7 99.5L356.9 97"/><path class="g" d="M334.7 97.1L353.7 99.5M338 92L356.9 97"/><polygon points="353.7,99.5 372.7,101.5 375.9,100.1 356.9,97" fill="#fac034"/><path class="g" d="M353.7 99.5L356.9 97M372.7 101.5L375.9 100.1"/><polygon points="372.7,101.5 391.6,99.3 394.9,101.9 375.9,100.1" fill="#f9cc30"/><path class="g" d="M372.7 101.5L375.9 100.1M391.6 99.3L394.9 101.9"/><polygon points="391.6,99.3 410.6,94.1 413.9,101 394.9,101.9" fill="#f6e028"/><path class="g" d="M391.6 99.3L394.9 101.9M410.6 94.1L413.9 101"/><path class="g" d="M391.6 99.3L410.6 94.1M394.9 101.9L413.9 101"/><polygon points="236.6,55.4 255.5,64.3 258.8,63.1 239.8,54.4" fill="#f4bd2e"/><path class="g" d="M236.6 55.4L239.8 54.4M255.5 64.3L258.8 63.1"/><polygon points="255.5,64.3 274.5,73 277.8,71.6 258.8,63.1" fill="#f4bd2e"/><path class="g" d="M255.5 64.3L258.8 63.1M274.5 73L277.8 71.6"/><polygon points="274.5,73 293.5,84.4 296.7,79.8 277.8,71.6" fill="#f4bd2e"/><path class="g" d="M274.5 73L277.8 71.6M293.5 84.4L296.7 79.8"/><path class="g" d="M274.5 73L293.5 84.4M277.8 71.6L296.7 79.8"/><polygon points="293.5,84.4 312.5,94.6 315.7,90.8 296.7,79.8" fill="#f2bc2c"/><path class="g" d="M293.5 84.4L296.7 79.8M312.5 94.6L315.7 90.8"/><path class="g" d="M293.5 84.4L312.5 94.6M296.7 79.8L315.7 90.8"/><polygon points="312.5,94.6 331.5,102 334.7,97.1 315.7,90.8" fill="#f1bc2c"/><path class="g" d="M312.5 94.6L315.7 90.8M331.5 102L334.7 97.1"/><path class="g" d="M312.5 94.6L331.5 102M315.7 90.8L334.7 97.1"/><polygon points="331.5,102 350.4,104.5 353.7,99.5 334.7,97.1" fill="#f3bc2d"/><path class="g" d="M331.5 102L334.7 97.1M350.4 104.5L353.7 99.5"/><path class="g" d="M331.5 102L350.4 104.5M334.7 97.1L353.7 99.5"/><polygon points="350.4,104.5 369.4,101.4 372.7,101.5 353.7,99.5" fill="#f7bf31"/><path class="g" d="M350.4 104.5L353.7 99.5M369.4 101.4L372.7 101.5"/><polygon points="369.4,101.4 388.4,99.7 391.6,99.3 372.7,101.5" fill="#f9ce30"/><path class="g" d="M369.4 101.4L372.7 101.5M388.4 99.7L391.6 99.3"/><polygon points="388.4,99.7 407.4,89 410.6,94.1 391.6,99.3" fill="#f6e027"/><path class="g" d="M388.4 99.7L391.6 99.3M407.4 89L410.6 94.1"/><path class="g" d="M388.4 99.7L407.4 89M391.6 99.3L410.6 94.1"/><polygon points="233.3,56.5 252.3,65.5 255.5,64.3 236.6,55.4" fill="#f4bd2e"/><path class="g" d="M233.3 56.5L236.6 55.4M252.3 65.5L255.5 64.3"/><polygon points="252.3,65.5 271.3,74.5 274.5,73 255.5,64.3" fill="#f4bd2e"/><path class="g" d="M252.3 65.5L255.5 64.3M271.3 74.5L274.5 73"/><polygon points="271.3,74.5 290.2,87.1 293.5,84.4 274.5,73" fill="#f4bd2e"/><path class="g" d="M271.3 74.5L274.5 73M290.2 87.1L293.5 84.4"/><path class="g" d="M271.3 74.5L290.2 87.1M274.5 73L293.5 84.4"/><polygon points="290.2,87.1 309.2,98.3 312.5,94.6 293.5,84.4" fill="#f0bc2c"/><path class="g" d="M290.2 87.1L293.5 84.4M309.2 98.3L312.5 94.6"/><path class="g" d="M290.2 87.1L309.2 98.3M293.5 84.4L312.5 94.6"/><polygon points="309.2,98.3 328.2,108.5 331.5,102 312.5,94.6" fill="#ecbd2c"/><path class="g" d="M309.2 98.3L312.5 94.6M328.2 108.5L331.5 102"/><path class="g" d="M309.2 98.3L328.2 108.5M312.5 94.6L331.5 102"/><polygon points="328.2,108.5 347.2,116.5 350.4,104.5 331.5,102" fill="#eabe2c"/><path class="g" d="M328.2 108.5L331.5 102M347.2 116.5L350.4 104.5"/><path class="g" d="M328.2 108.5L347.2 116.5M331.5 102L350.4 104.5"/><polygon points="347.2,116.5 366.2,121.1 369.4,101.4 350.4,104.5" fill="#ecbd2c"/><path class="g" d="M347.2 116.5L350.4 104.5M366.2 121.1L369.4 101.4"/><path class="g" d="M347.2 116.5L366.2 121.1M350.4 104.5L369.4 101.4"/><polygon points="366.2,121.1 385.1,114.1 388.4,99.7 369.4,101.4" fill="#f3bc2d"/><path class="g" d="M366.2 121.1L369.4 101.4M385.1 114.1L388.4 99.7"/><path class="g" d="M366.2 121.1L385.1 114.1M369.4 101.4L388.4 99.7"/><polygon points="385.1,114.1 404.1,88.4 407.4,89 388.4,99.7" fill="#fac932"/><path class="g" d="M385.1 114.1L388.4 99.7M404.1 88.4L407.4 89"/><path class="g" d="M385.1 114.1L404.1 88.4M388.4 99.7L407.4 89"/><polygon points="230,57.6 249,67.9 252.3,65.5 233.3,56.5" fill="#f4bd2e"/><path class="g" d="M230 57.6L233.3 56.5M249 67.9L252.3 65.5"/><path class="g" d="M230 57.6L249 67.9M233.3 56.5L252.3 65.5"/><polygon points="249,67.9 268,78.7 271.3,74.5 252.3,65.5" fill="#f3bc2d"/><path class="g" d="M249 67.9L252.3 65.5M268 78.7L271.3 74.5"/><path class="g" d="M249 67.9L268 78.7M252.3 65.5L271.3 74.5"/><polygon points="268,78.7 287,90.5 290.2,87.1 271.3,74.5" fill="#f0bc2c"/><path class="g" d="M268 78.7L271.3 74.5M287 90.5L290.2 87.1"/><path class="g" d="M268 78.7L287 90.5M271.3 74.5L290.2 87.1"/><polygon points="287,90.5 306,103.2 309.2,98.3 290.2,87.1" fill="#ebbd2c"/><path class="g" d="M287 90.5L290.2 87.1M306 103.2L309.2 98.3"/><path class="g" d="M287 90.5L306 103.2M290.2 87.1L309.2 98.3"/><polygon points="306,103.2 324.9,116.6 328.2,108.5 309.2,98.3" fill="#e4be2c"/><path class="g" d="M306 103.2L309.2 98.3M324.9 116.6L328.2 108.5"/><path class="g" d="M306 103.2L324.9 116.6M309.2 98.3L328.2 108.5"/><polygon points="324.9,116.6 343.9,130.6 347.2,116.5 328.2,108.5" fill="#dbc02e"/><path class="g" d="M324.9 116.6L328.2 108.5M343.9 130.6L347.2 116.5"/><path class="g" d="M324.9 116.6L343.9 130.6M328.2 108.5L347.2 116.5"/><polygon points="343.9,130.6 362.9,147.4 366.2,121.1 347.2,116.5" fill="#d0c130"/><path class="g" d="M343.9 130.6L347.2 116.5M362.9 147.4L366.2 121.1"/><path class="g" d="M343.9 130.6L362.9 147.4M347.2 116.5L366.2 121.1"/><polygon points="362.9,147.4 381.9,180.6 385.1,114.1 366.2,121.1" fill="#bec235"/><path class="g" d="M362.9 147.4L366.2 121.1M381.9 180.6L385.1 114.1"/><path class="g" d="M362.9 147.4L381.9 180.6M366.2 121.1L385.1 114.1"/><polygon points="381.9,180.6 400.9,352.3 404.1,88.4 385.1,114.1" fill="#40c488"/><path class="g" d="M381.9 180.6L385.1 114.1M400.9 352.3L404.1 88.4"/><path class="g" d="M381.9 180.6L400.9 352.3M385.1 114.1L404.1 88.4"/><polygon points="226.8,58.6 245.8,69.2 249,67.9 230,57.6" fill="#f4bd2e"/><path class="g" d="M226.8 58.6L230 57.6M245.8 69.2L249 67.9"/><polygon points="245.8,69.2 264.8,80.6 268,78.7 249,67.9" fill="#f2bc2c"/><path class="g" d="M245.8 69.2L249 67.9M264.8 80.6L268 78.7"/><path class="g" d="M245.8 69.2L264.8 80.6M249 67.9L268 78.7"/><polygon points="264.8,80.6 283.7,93.2 287,90.5 268,78.7" fill="#efbd2c"/><path class="g" d="M264.8 80.6L268 78.7M283.7 93.2L287 90.5"/><path class="g" d="M264.8 80.6L283.7 93.2M268 78.7L287 90.5"/><polygon points="283.7,93.2 302.7,106.8 306,103.2 287,90.5" fill="#e8be2c"/><path class="g" d="M283.7 93.2L287 90.5M302.7 106.8L306 103.2"/><path class="g" d="M283.7 93.2L302.7 106.8M287 90.5L306 103.2"/><polygon points="302.7,106.8 321.7,121.5 324.9,116.6 306,103.2" fill="#debf2d"/><path class="g" d="M302.7 106.8L306 103.2M321.7 121.5L324.9 116.6"/><path class="g" d="M302.7 106.8L321.7 121.5M306 103.2L324.9 116.6"/><polygon points="321.7,121.5 340.7,138.2 343.9,130.6 324.9,116.6" fill="#d2c02f"/><path class="g" d="M321.7 121.5L324.9 116.6M340.7 138.2L343.9 130.6"/><path class="g" d="M321.7 121.5L340.7 138.2M324.9 116.6L343.9 130.6"/><polygon points="340.7,138.2 359.7,161.6 362.9,147.4 343.9,130.6" fill="#c1c235"/><path class="g" d="M340.7 138.2L343.9 130.6M359.7 161.6L362.9 147.4"/><path class="g" d="M340.7 138.2L359.7 161.6M343.9 130.6L362.9 147.4"/><polygon points="359.7,161.6 378.6,211.3 381.9,180.6 362.9,147.4" fill="#98c74a"/><path class="g" d="M359.7 161.6L362.9 147.4M378.6 211.3L381.9 180.6"/><path class="g" d="M359.7 161.6L378.6 211.3M362.9 147.4L381.9 180.6"/><polygon points="378.6,211.3 397.6,296.2 400.9,352.3 381.9,180.6" fill="#2cbb9e"/><path class="g" d="M378.6 211.3L381.9 180.6M397.6 296.2L400.9 352.3"/><polygon points="223.5,59.6 242.5,70.4 245.8,69.2 226.8,58.6" fill="#f4bd2e"/><path class="g" d="M223.5 59.6L226.8 58.6M242.5 70.4L245.8 69.2"/><polygon points="242.5,70.4 261.5,82.1 264.8,80.6 245.8,69.2" fill="#f2bc2c"/><path class="g" d="M242.5 70.4L245.8 69.2M261.5 82.1L264.8 80.6"/><path class="g" d="M242.5 70.4L261.5 82.1M245.8 69.2L264.8 80.6"/><polygon points="261.5,82.1 280.5,95.1 283.7,93.2 264.8,80.6" fill="#eebd2c"/><path class="g" d="M261.5 82.1L264.8 80.6M280.5 95.1L283.7 93.2"/><path class="g" d="M261.5 82.1L280.5 95.1M264.8 80.6L283.7 93.2"/><polygon points="280.5,95.1 299.5,109.3 302.7,106.8 283.7,93.2" fill="#e6be2c"/><path class="g" d="M280.5 95.1L283.7 93.2M299.5 109.3L302.7 106.8"/><path class="g" d="M280.5 95.1L299.5 109.3M283.7 93.2L302.7 106.8"/><polygon points="299.5,109.3 318.4,124.7 321.7,121.5 302.7,106.8" fill="#dbc02e"/><path class="g" d="M299.5 109.3L302.7 106.8M318.4 124.7L321.7 121.5"/><path class="g" d="M299.5 109.3L318.4 124.7M302.7 106.8L321.7 121.5"/><polygon points="318.4,124.7 337.4,142.5 340.7,138.2 321.7,121.5" fill="#cdc131"/><path class="g" d="M318.4 124.7L321.7 121.5M337.4 142.5L340.7 138.2"/><path class="g" d="M318.4 124.7L337.4 142.5M321.7 121.5L340.7 138.2"/><polygon points="337.4,142.5 356.4,161.5 359.7,161.6 340.7,138.2" fill="#b9c337"/><path class="g" d="M337.4 142.5L340.7 138.2M356.4 161.5L359.7 161.6"/><path class="g" d="M337.4 142.5L356.4 161.5M340.7 138.2L359.7 161.6"/><polygon points="356.4,161.5 375.4,200.2 378.6,211.3 359.7,161.6" fill="#9bc748"/><path class="g" d="M356.4 161.5L359.7 161.6M375.4 200.2L378.6 211.3"/><polygon points="375.4,200.2 394.4,242.2 397.6,296.2 378.6,211.3" fill="#36c093"/><path class="g" d="M375.4 200.2L378.6 211.3M394.4 242.2L397.6 296.2"/><path class="g" d="M375.4 200.2L394.4 242.2M378.6 211.3L397.6 296.2"/><polygon points="220.3,60.6 239.3,71.4 242.5,70.4 223.5,59.6" fill="#f4bd2e"/><path class="g" d="M220.3 60.6L223.5 59.6M239.3 71.4L242.5 70.4"/><polygon points="239.3,71.4 258.3,83.1 261.5,82.1 242.5,70.4" fill="#f2bc2c"/><path class="g" d="M239.3 71.4L242.5 70.4M258.3 83.1L261.5 82.1"/><polygon points="258.3,83.1 277.2,96.1 280.5,95.1 261.5,82.1" fill="#eebd2c"/><path class="g" d="M258.3 83.1L261.5 82.1M277.2 96.1L280.5 95.1"/><path class="g" d="M258.3 83.1L277.2 96.1M261.5 82.1L280.5 95.1"/><polygon points="277.2,96.1 296.2,110.3 299.5,109.3 280.5,95.1" fill="#e6be2c"/><path class="g" d="M277.2 96.1L280.5 95.1M296.2 110.3L299.5 109.3"/><path class="g" d="M277.2 96.1L296.2 110.3M280.5 95.1L299.5 109.3"/><polygon points="296.2,110.3 315.2,125.7 318.4,124.7 299.5,109.3" fill="#dbc02e"/><path class="g" d="M296.2 110.3L299.5 109.3M315.2 125.7L318.4 124.7"/><path class="g" d="M296.2 110.3L315.2 125.7M299.5 109.3L318.4 124.7"/><polygon points="315.2,125.7 334.2,143.2 337.4,142.5 318.4,124.7" fill="#cdc131"/><path class="g" d="M315.2 125.7L318.4 124.7M334.2 143.2L337.4 142.5"/><path class="g" d="M315.2 125.7L334.2 143.2M318.4 124.7L337.4 142.5"/><polygon points="334.2,143.2 353.2,160.6 356.4,161.5 337.4,142.5" fill="#bac337"/><path class="g" d="M334.2 143.2L337.4 142.5M353.2 160.6L356.4 161.5"/><polygon points="353.2,160.6 372.1,190.2 375.4,200.2 356.4,161.5" fill="#a1c645"/><path class="g" d="M353.2 160.6L356.4 161.5M372.1 190.2L375.4 200.2"/><polygon points="372.1,190.2 391.1,204.8 394.4,242.2 375.4,200.2" fill="#5eca73"/><path class="g" d="M372.1 190.2L375.4 200.2M391.1 204.8L394.4 242.2"/><path class="g" d="M372.1 190.2L391.1 204.8M375.4 200.2L394.4 242.2"/><polygon points="217,61.6 236,72.4 239.3,71.4 220.3,60.6" fill="#f4bd2e"/><path class="g" d="M217 61.6L220.3 60.6M236 72.4L239.3 71.4"/><polygon points="236,72.4 255,84.1 258.3,83.1 239.3,71.4" fill="#f2bc2c"/><path class="g" d="M236 72.4L239.3 71.4M255 84.1L258.3 83.1"/><polygon points="255,84.1 274,97.1 277.2,96.1 258.3,83.1" fill="#eebd2c"/><path class="g" d="M255 84.1L258.3 83.1M274 97.1L277.2 96.1"/><path class="g" d="M255 84.1L274 97.1M258.3 83.1L277.2 96.1"/><polygon points="274,97.1 293,111.3 296.2,110.3 277.2,96.1" fill="#e6be2c"/><path class="g" d="M274 97.1L277.2 96.1M293 111.3L296.2 110.3"/><path class="g" d="M274 97.1L293 111.3M277.2 96.1L296.2 110.3"/><polygon points="293,111.3 311.9,126.7 315.2,125.7 296.2,110.3" fill="#dbc02e"/><path class="g" d="M293 111.3L296.2 110.3M311.9 126.7L315.2 125.7"/><path class="g" d="M293 111.3L311.9 126.7M296.2 110.3L315.2 125.7"/><polygon points="311.9,126.7 330.9,143.4 334.2,143.2 315.2,125.7" fill="#cdc131"/><path class="g" d="M311.9 126.7L315.2 125.7M330.9 143.4L334.2 143.2"/><path class="g" d="M311.9 126.7L330.9 143.4M315.2 125.7L334.2 143.2"/><polygon points="330.9,143.4 349.9,159.1 353.2,160.6 334.2,143.2" fill="#bcc336"/><path class="g" d="M330.9 143.4L334.2 143.2M349.9 159.1L353.2 160.6"/><polygon points="349.9,159.1 368.9,182.3 372.1,190.2 353.2,160.6" fill="#a8c541"/><path class="g" d="M349.9 159.1L353.2 160.6M368.9 182.3L372.1 190.2"/><polygon points="368.9,182.3 387.9,192.8 391.1,204.8 372.1,190.2" fill="#7bc95e"/><path class="g" d="M368.9 182.3L372.1 190.2M387.9 192.8L391.1 204.8"/><path class="g" d="M368.9 182.3L387.9 192.8M372.1 190.2L391.1 204.8"/><polygon points="213.8,62.6 232.8,73.4 236,72.4 217,61.6" fill="#f4bd2e"/><path class="g" d="M213.8 62.6L217 61.6M232.8 73.4L236 72.4"/><polygon points="232.8,73.4 251.7,84.9 255,84.1 236,72.4" fill="#f2bc2c"/><path class="g" d="M232.8 73.4L236 72.4M251.7 84.9L255 84.1"/><polygon points="251.7,84.9 270.7,97.8 274,97.1 255,84.1" fill="#eebd2c"/><path class="g" d="M251.7 84.9L255 84.1M270.7 97.8L274 97.1"/><polygon points="270.7,97.8 289.7,111.9 293,111.3 274,97.1" fill="#e7be2c"/><path class="g" d="M270.7 97.8L274 97.1M289.7 111.9L293 111.3"/><polygon points="289.7,111.9 308.7,127.1 311.9,126.7 293,111.3" fill="#dcbf2d"/><path class="g" d="M289.7 111.9L293 111.3M308.7 127.1L311.9 126.7"/><polygon points="308.7,127.1 327.7,143.1 330.9,143.4 311.9,126.7" fill="#cec131"/><path class="g" d="M308.7 127.1L311.9 126.7M327.7 143.1L330.9 143.4"/><polygon points="327.7,143.1 346.6,157.3 349.9,159.1 330.9,143.4" fill="#bfc235"/><path class="g" d="M327.7 143.1L330.9 143.4M346.6 157.3L349.9 159.1"/><polygon points="346.6,157.3 365.6,175.7 368.9,182.3 349.9,159.1" fill="#b1c43c"/><path class="g" d="M346.6 157.3L349.9 159.1M365.6 175.7L368.9 182.3"/><polygon points="365.6,175.7 384.6,185.9 387.9,192.8 368.9,182.3" fill="#94c84c"/><path class="g" d="M365.6 175.7L368.9 182.3M384.6 185.9L387.9 192.8"/><path class="g" d="M365.6 175.7L384.6 185.9M368.9 182.3L387.9 192.8"/><polygon points="210.5,63.6 229.5,74.3 232.8,73.4 213.8,62.6" fill="#f4bd2e"/><path class="g" d="M210.5 63.6L213.8 62.6M229.5 74.3L232.8 73.4"/><polygon points="229.5,74.3 248.5,85.7 251.7,84.9 232.8,73.4" fill="#f2bc2c"/><path class="g" d="M229.5 74.3L232.8 73.4M248.5 85.7L251.7 84.9"/><polygon points="248.5,85.7 267.5,98.3 270.7,97.8 251.7,84.9" fill="#efbd2c"/><path class="g" d="M248.5 85.7L251.7 84.9M267.5 98.3L270.7 97.8"/><polygon points="267.5,98.3 286.5,112 289.7,111.9 270.7,97.8" fill="#e8be2c"/><path class="g" d="M267.5 98.3L270.7 97.8M286.5 112L289.7 111.9"/><polygon points="286.5,112 305.4,126.8 308.7,127.1 289.7,111.9" fill="#debf2d"/><path class="g" d="M286.5 112L289.7 111.9M305.4 126.8L308.7 127.1"/><polygon points="305.4,126.8 324.4,142 327.7,143.1 308.7,127.1" fill="#d1c130"/><path class="g" d="M305.4 126.8L308.7 127.1M324.4 142L327.7 143.1"/><polygon points="324.4,142 343.4,155.2 346.6,157.3 327.7,143.1" fill="#c3c234"/><path class="g" d="M324.4 142L327.7 143.1M343.4 155.2L346.6 157.3"/><polygon points="343.4,155.2 362.4,170.6 365.6,175.7 346.6,157.3" fill="#bac337"/><path class="g" d="M343.4 155.2L346.6 157.3M362.4 170.6L365.6 175.7"/><polygon points="362.4,170.6 381.4,180.3 384.6,185.9 365.6,175.7" fill="#a7c541"/><path class="g" d="M362.4 170.6L365.6 175.7M381.4 180.3L384.6 185.9"/><path class="g" d="M362.4 170.6L381.4 180.3M365.6 175.7L384.6 185.9"/><polygon points="207.3,64.6 226.3,75.2 229.5,74.3 210.5,63.6" fill="#f4bd2e"/><path class="g" d="M207.3 64.6L210.5 63.6M226.3 75.2L229.5 74.3"/><polygon points="226.3,75.2 245.2,86.4 248.5,85.7 229.5,74.3" fill="#f2bc2c"/><path class="g" d="M226.3 75.2L229.5 74.3M245.2 86.4L248.5 85.7"/><polygon points="245.2,86.4 264.2,98.7 267.5,98.3 248.5,85.7" fill="#efbd2c"/><path class="g" d="M245.2 86.4L248.5 85.7M264.2 98.7L267.5 98.3"/><polygon points="264.2,98.7 283.2,112.1 286.5,112 267.5,98.3" fill="#e9be2c"/><path class="g" d="M264.2 98.7L267.5 98.3M283.2 112.1L286.5 112"/><polygon points="283.2,112.1 302.2,126.4 305.4,126.8 286.5,112" fill="#e0bf2d"/><path class="g" d="M283.2 112.1L286.5 112M302.2 126.4L305.4 126.8"/><polygon points="302.2,126.4 321.2,140.9 324.4,142 305.4,126.8" fill="#d5c02f"/><path class="g" d="M302.2 126.4L305.4 126.8M321.2 140.9L324.4 142"/><polygon points="321.2,140.9 340.1,153.3 343.4,155.2 324.4,142" fill="#c8c232"/><path class="g" d="M321.2 140.9L324.4 142M340.1 153.3L343.4 155.2"/><polygon points="340.1,153.3 359.1,166.3 362.4,170.6 343.4,155.2" fill="#c1c235"/><path class="g" d="M340.1 153.3L343.4 155.2M359.1 166.3L362.4 170.6"/><polygon points="359.1,166.3 378.1,176 381.4,180.3 362.4,170.6" fill="#b7c338"/><path class="g" d="M359.1 166.3L362.4 170.6M378.1 176L381.4 180.3"/><polygon points="204,65.6 223,76 226.3,75.2 207.3,64.6" fill="#f4bd2e"/><path class="g" d="M204 65.6L207.3 64.6M223 76L226.3 75.2"/><polygon points="223,76 242,87.1 245.2,86.4 226.3,75.2" fill="#f3bc2d"/><path class="g" d="M223 76L226.3 75.2M242 87.1L245.2 86.4"/><polygon points="242,87.1 261,99.2 264.2,98.7 245.2,86.4" fill="#f0bc2c"/><path class="g" d="M242 87.1L245.2 86.4M261 99.2L264.2 98.7"/><polygon points="261,99.2 279.9,112.2 283.2,112.1 264.2,98.7" fill="#eabe2c"/><path class="g" d="M261 99.2L264.2 98.7M279.9 112.2L283.2 112.1"/><polygon points="279.9,112.2 298.9,126.2 302.2,126.4 283.2,112.1" fill="#e2bf2d"/><path class="g" d="M279.9 112.2L283.2 112.1M298.9 126.2L302.2 126.4"/><polygon points="298.9,126.2 317.9,139.9 321.2,140.9 302.2,126.4" fill="#d7c02e"/><path class="g" d="M298.9 126.2L302.2 126.4M317.9 139.9L321.2 140.9"/><polygon points="317.9,139.9 336.9,151.6 340.1,153.3 321.2,140.9" fill="#cdc131"/><path class="g" d="M317.9 139.9L321.2 140.9M336.9 151.6L340.1 153.3"/><polygon points="336.9,151.6 355.9,163.2 359.1,166.3 340.1,153.3" fill="#c7c233"/><path class="g" d="M336.9 151.6L340.1 153.3M355.9 163.2L359.1 166.3"/><polygon points="355.9,163.2 374.8,172.4 378.1,176 359.1,166.3" fill="#c1c235"/><path class="g" d="M355.9 163.2L359.1 166.3M374.8 172.4L378.1 176"/><polygon points="200.8,66.6 219.8,76.9 223,76 204,65.6" fill="#f4bd2e"/><path class="g" d="M200.8 66.6L204 65.6M219.8 76.9L223 76"/><polygon points="219.8,76.9 238.7,87.8 242,87.1 223,76" fill="#f3bc2d"/><path class="g" d="M219.8 76.9L223 76M238.7 87.8L242 87.1"/><polygon points="238.7,87.8 257.7,99.6 261,99.2 242,87.1" fill="#f0bc2c"/><path class="g" d="M238.7 87.8L242 87.1M257.7 99.6L261 99.2"/><polygon points="257.7,99.6 276.7,112.3 279.9,112.2 261,99.2" fill="#ebbd2c"/><path class="g" d="M257.7 99.6L261 99.2M276.7 112.3L279.9 112.2"/><polygon points="276.7,112.3 295.7,125.8 298.9,126.2 279.9,112.2" fill="#e4bf2d"/><path class="g" d="M276.7 112.3L279.9 112.2M295.7 125.8L298.9 126.2"/><polygon points="295.7,125.8 314.7,138.9 317.9,139.9 298.9,126.2" fill="#dac02e"/><path class="g" d="M295.7 125.8L298.9 126.2M314.7 138.9L317.9 139.9"/><polygon points="314.7,138.9 333.6,150 336.9,151.6 317.9,139.9" fill="#d1c130"/><path class="g" d="M314.7 138.9L317.9 139.9M333.6 150L336.9 151.6"/><polygon points="333.6,150 352.6,160.7 355.9,163.2 336.9,151.6" fill="#cdc131"/><path class="g" d="M333.6 150L336.9 151.6M352.6 160.7L355.9 163.2"/><polygon points="352.6,160.7 371.6,169.2 374.8,172.4 355.9,163.2" fill="#c9c132"/><path class="g" d="M352.6 160.7L355.9 163.2M371.6 169.2L374.8 172.4"/><polygon points="197.5,67.6 216.5,77.8 219.8,76.9 200.8,66.6" fill="#f4bd2e"/><path class="g" d="M197.5 67.6L200.8 66.6M216.5 77.8L219.8 76.9"/><polygon points="216.5,77.8 235.5,88.5 238.7,87.8 219.8,76.9" fill="#f3bc2d"/><path class="g" d="M216.5 77.8L219.8 76.9M235.5 88.5L238.7 87.8"/><polygon points="235.5,88.5 254.5,100.1 257.7,99.6 238.7,87.8" fill="#f1bc2c"/><path class="g" d="M235.5 88.5L238.7 87.8M254.5 100.1L257.7 99.6"/><polygon points="254.5,100.1 273.4,112.4 276.7,112.3 257.7,99.6" fill="#ecbd2c"/><path class="g" d="M254.5 100.1L257.7 99.6M273.4 112.4L276.7 112.3"/><polygon points="273.4,112.4 292.4,125.5 295.7,125.8 276.7,112.3" fill="#e6be2c"/><path class="g" d="M273.4 112.4L276.7 112.3M292.4 125.5L295.7 125.8"/><polygon points="292.4,125.5 311.4,137.9 314.7,138.9 295.7,125.8" fill="#ddbf2d"/><path class="g" d="M292.4 125.5L295.7 125.8M311.4 137.9L314.7 138.9"/><polygon points="311.4,137.9 330.4,148.6 333.6,150 314.7,138.9" fill="#d6c02e"/><path class="g" d="M311.4 137.9L314.7 138.9M330.4 148.6L333.6 150"/><polygon points="330.4,148.6 349.4,158.8 352.6,160.7 333.6,150" fill="#d2c02f"/><path class="g" d="M330.4 148.6L333.6 150M349.4 158.8L352.6 160.7"/><polygon points="349.4,158.8 368.3,166.4 371.6,169.2 352.6,160.7" fill="#d0c130"/><path class="g" d="M349.4 158.8L352.6 160.7M368.3 166.4L371.6 169.2"/><polygon points="194.3,68.6 213.2,78.7 216.5,77.8 197.5,67.6" fill="#f4bd2e"/><path class="g" d="M194.3 68.6L197.5 67.6M213.2 78.7L216.5 77.8"/><polygon points="213.2,78.7 232.2,89.2 235.5,88.5 216.5,77.8" fill="#f3bc2d"/><path class="g" d="M213.2 78.7L216.5 77.8M232.2 89.2L235.5 88.5"/><polygon points="232.2,89.2 251.2,100.6 254.5,100.1 235.5,88.5" fill="#f1bc2c"/><path class="g" d="M232.2 89.2L235.5 88.5M251.2 100.6L254.5 100.1"/><polygon points="251.2,100.6 270.2,112.6 273.4,112.4 254.5,100.1" fill="#edbd2c"/><path class="g" d="M251.2 100.6L254.5 100.1M270.2 112.6L273.4 112.4"/><polygon points="270.2,112.6 289.2,125.2 292.4,125.5 273.4,112.4" fill="#e7be2c"/><path class="g" d="M270.2 112.6L273.4 112.4M289.2 125.2L292.4 125.5"/><polygon points="289.2,125.2 308.1,137.1 311.4,137.9 292.4,125.5" fill="#e0bf2d"/><path class="g" d="M289.2 125.2L292.4 125.5M308.1 137.1L311.4 137.9"/><polygon points="308.1,137.1 327.1,147.4 330.4,148.6 311.4,137.9" fill="#dac02e"/><path class="g" d="M308.1 137.1L311.4 137.9M327.1 147.4L330.4 148.6"/><polygon points="327.1,147.4 346.1,157.1 349.4,158.8 330.4,148.6" fill="#d7c02e"/><path class="g" d="M327.1 147.4L330.4 148.6M346.1 157.1L349.4 158.8"/><polygon points="346.1,157.1 365.1,164.4 368.3,166.4 349.4,158.8" fill="#d6c02e"/><path class="g" d="M346.1 157.1L349.4 158.8M365.1 164.4L368.3 166.4"/><polygon points="191,69.6 210,79.6 213.2,78.7 194.3,68.6" fill="#f4bd2e"/><path class="g" d="M191 69.6L194.3 68.6M210 79.6L213.2 78.7"/><polygon points="210,79.6 229,89.9 232.2,89.2 213.2,78.7" fill="#f3bc2d"/><path class="g" d="M210 79.6L213.2 78.7M229 89.9L232.2 89.2"/><polygon points="229,89.9 248,101 251.2,100.6 232.2,89.2" fill="#f2bc2c"/><path class="g" d="M229 89.9L232.2 89.2M248 101L251.2 100.6"/><polygon points="248,101 266.9,112.7 270.2,112.6 251.2,100.6" fill="#eebd2c"/><path class="g" d="M248 101L251.2 100.6M266.9 112.7L270.2 112.6"/><polygon points="266.9,112.7 285.9,124.9 289.2,125.2 270.2,112.6" fill="#e9be2c"/><path class="g" d="M266.9 112.7L270.2 112.6M285.9 124.9L289.2 125.2"/><polygon points="285.9,124.9 304.9,136.3 308.1,137.1 289.2,125.2" fill="#e3bf2d"/><path class="g" d="M285.9 124.9L289.2 125.2M304.9 136.3L308.1 137.1"/><polygon points="304.9,136.3 323.9,146.3 327.1,147.4 308.1,137.1" fill="#debf2d"/><path class="g" d="M304.9 136.3L308.1 137.1M323.9 146.3L327.1 147.4"/><polygon points="323.9,146.3 342.9,155.7 346.1,157.1 327.1,147.4" fill="#dbbf2d"/><path class="g" d="M323.9 146.3L327.1 147.4M342.9 155.7L346.1 157.1"/><polygon points="342.9,155.7 361.8,163.1 365.1,164.4 346.1,157.1" fill="#dbc02e"/><path class="g" d="M342.9 155.7L346.1 157.1M361.8 163.1L365.1 164.4"/><polygon points="187.8,70.6 206.7,80.5 210,79.6 191,69.6" fill="#f4bd2e"/><path class="g" d="M187.8 70.6L191 69.6M206.7 80.5L210 79.6"/><polygon points="206.7,80.5 225.7,90.7 229,89.9 210,79.6" fill="#f3bd2d"/><path class="g" d="M206.7 80.5L210 79.6M225.7 90.7L229 89.9"/><polygon points="225.7,90.7 244.7,101.5 248,101 229,89.9" fill="#f2bc2c"/><path class="g" d="M225.7 90.7L229 89.9M244.7 101.5L248 101"/><polygon points="244.7,101.5 263.7,112.8 266.9,112.7 248,101" fill="#efbd2c"/><path class="g" d="M244.7 101.5L248 101M263.7 112.8L266.9 112.7"/><polygon points="263.7,112.8 282.7,124.7 285.9,124.9 266.9,112.7" fill="#ebbd2c"/><path class="g" d="M263.7 112.8L266.9 112.7M282.7 124.7L285.9 124.9"/><polygon points="282.7,124.7 301.6,135.7 304.9,136.3 285.9,124.9" fill="#e5be2c"/><path class="g" d="M282.7 124.7L285.9 124.9M301.6 135.7L304.9 136.3"/><polygon points="301.6,135.7 320.6,145.5 323.9,146.3 304.9,136.3" fill="#e1bf2d"/><path class="g" d="M301.6 135.7L304.9 136.3M320.6 145.5L323.9 146.3"/><polygon points="320.6,145.5 339.6,154.6 342.9,155.7 323.9,146.3" fill="#e0bf2d"/><path class="g" d="M320.6 145.5L323.9 146.3M339.6 154.6L342.9 155.7"/><polygon points="339.6,154.6 358.6,162.2 361.8,163.1 342.9,155.7" fill="#dfbf2d"/><path class="g" d="M339.6 154.6L342.9 155.7M358.6 162.2L361.8 163.1"/><polygon points="184.5,71.6 203.5,81.4 206.7,80.5 187.8,70.6" fill="#f4bd2e"/><path class="g" d="M184.5 71.6L187.8 70.6M203.5 81.4L206.7 80.5"/><polygon points="203.5,81.4 222.5,91.4 225.7,90.7 206.7,80.5" fill="#f3bd2d"/><path class="g" d="M203.5 81.4L206.7 80.5M222.5 91.4L225.7 90.7"/><polygon points="222.5,91.4 241.5,102 244.7,101.5 225.7,90.7" fill="#f2bc2c"/><path class="g" d="M222.5 91.4L225.7 90.7M241.5 102L244.7 101.5"/><polygon points="241.5,102 260.4,113.1 263.7,112.8 244.7,101.5" fill="#f0bc2c"/><path class="g" d="M241.5 102L244.7 101.5M260.4 113.1L263.7 112.8"/><polygon points="260.4,113.1 279.4,124.6 282.7,124.7 263.7,112.8" fill="#ecbd2c"/><path class="g" d="M260.4 113.1L263.7 112.8M279.4 124.6L282.7 124.7"/><polygon points="279.4,124.6 298.4,135.3 301.6,135.7 282.7,124.7" fill="#e8be2c"/><path class="g" d="M279.4 124.6L282.7 124.7M298.4 135.3L301.6 135.7"/><polygon points="298.4,135.3 317.4,144.9 320.6,145.5 301.6,135.7" fill="#e4be2c"/><path class="g" d="M298.4 135.3L301.6 135.7M317.4 144.9L320.6 145.5"/><polygon points="317.4,144.9 336.4,154 339.6,154.6 320.6,145.5" fill="#e3bf2d"/><path class="g" d="M317.4 144.9L320.6 145.5M336.4 154L339.6 154.6"/><polygon points="336.4,154 355.3,161.9 358.6,162.2 339.6,154.6" fill="#e3bf2d"/><path class="g" d="M336.4 154L339.6 154.6M355.3 161.9L358.6 162.2"/><polygon points="181.3,72.6 200.2,82.3 203.5,81.4 184.5,71.6" fill="#f4bd2e"/><path class="g" d="M181.3 72.6L184.5 71.6M200.2 82.3L203.5 81.4"/><polygon points="200.2,82.3 219.2,92.2 222.5,91.4 203.5,81.4" fill="#f3bd2d"/><path class="g" d="M200.2 82.3L203.5 81.4M219.2 92.2L222.5 91.4"/><polygon points="219.2,92.2 238.2,102.6 241.5,102 222.5,91.4" fill="#f2bc2c"/><path class="g" d="M219.2 92.2L222.5 91.4M238.2 102.6L241.5 102"/><polygon points="238.2,102.6 257.2,113.5 260.4,113.1 241.5,102" fill="#f1bc2c"/><path class="g" d="M238.2 102.6L241.5 102M257.2 113.5L260.4 113.1"/><polygon points="257.2,113.5 276.2,124.7 279.4,124.6 260.4,113.1" fill="#edbd2c"/><path class="g" d="M257.2 113.5L260.4 113.1M276.2 124.7L279.4 124.6"/><polygon points="276.2,124.7 295.1,135.1 298.4,135.3 279.4,124.6" fill="#e9be2c"/><path class="g" d="M276.2 124.7L279.4 124.6M295.1 135.1L298.4 135.3"/><polygon points="295.1,135.1 314.1,144.7 317.4,144.9 298.4,135.3" fill="#e7be2c"/><path class="g" d="M295.1 135.1L298.4 135.3M314.1 144.7L317.4 144.9"/><polygon points="314.1,144.7 333.1,153.8 336.4,154 317.4,144.9" fill="#e6be2c"/><path class="g" d="M314.1 144.7L317.4 144.9M333.1 153.8L336.4 154"/><polygon points="333.1,153.8 352.1,162.3 355.3,161.9 336.4,154" fill="#e5be2c"/><path class="g" d="M333.1 153.8L336.4 154M352.1 162.3L355.3 161.9"/><polygon points="178,73.6 197,83.2 200.2,82.3 181.3,72.6" fill="#f4bd2e"/><path class="g" d="M178 73.6L181.3 72.6M197 83.2L200.2 82.3"/><polygon points="197,83.2 216,93 219.2,92.2 200.2,82.3" fill="#f3bd2d"/><path class="g" d="M197 83.2L200.2 82.3M216 93L219.2 92.2"/><polygon points="216,93 234.9,103.3 238.2,102.6 219.2,92.2" fill="#f3bc2d"/><path class="g" d="M216 93L219.2 92.2M234.9 103.3L238.2 102.6"/><polygon points="234.9,103.3 253.9,113.9 257.2,113.5 238.2,102.6" fill="#f1bc2c"/><path class="g" d="M234.9 103.3L238.2 102.6M253.9 113.9L257.2 113.5"/><polygon points="253.9,113.9 272.9,124.8 276.2,124.7 257.2,113.5" fill="#efbd2c"/><path class="g" d="M253.9 113.9L257.2 113.5M272.9 124.8L276.2 124.7"/><polygon points="272.9,124.8 291.9,134.9 295.1,135.1 276.2,124.7" fill="#ebbd2c"/><path class="g" d="M272.9 124.8L276.2 124.7M291.9 134.9L295.1 135.1"/><polygon points="291.9,134.9 310.9,144.5 314.1,144.7 295.1,135.1" fill="#e9be2c"/><path class="g" d="M291.9 134.9L295.1 135.1M310.9 144.5L314.1 144.7"/><polygon points="310.9,144.5 329.8,153.8 333.1,153.8 314.1,144.7" fill="#e8be2c"/><path class="g" d="M310.9 144.5L314.1 144.7M329.8 153.8L333.1 153.8"/><polygon points="329.8,153.8 348.8,162.8 352.1,162.3 333.1,153.8" fill="#e8be2c"/><path class="g" d="M329.8 153.8L333.1 153.8M348.8 162.8L352.1 162.3"/><polygon points="174.8,74.6 193.7,84.1 197,83.2 178,73.6" fill="#f4bd2e"/><path class="g" d="M174.8 74.6L178 73.6M193.7 84.1L197 83.2"/><polygon points="193.7,84.1 212.7,93.9 216,93 197,83.2" fill="#f3bd2d"/><path class="g" d="M193.7 84.1L197 83.2M212.7 93.9L216 93"/><polygon points="212.7,93.9 231.7,103.9 234.9,103.3 216,93" fill="#f3bc2d"/><path class="g" d="M212.7 93.9L216 93M231.7 103.9L234.9 103.3"/><polygon points="231.7,103.9 250.7,114.3 253.9,113.9 234.9,103.3" fill="#f2bc2c"/><path class="g" d="M231.7 103.9L234.9 103.3M250.7 114.3L253.9 113.9"/><polygon points="250.7,114.3 269.7,125 272.9,124.8 253.9,113.9" fill="#f0bc2c"/><path class="g" d="M250.7 114.3L253.9 113.9M269.7 125L272.9 124.8"/><polygon points="269.7,125 288.6,134.9 291.9,134.9 272.9,124.8" fill="#ecbd2c"/><path class="g" d="M269.7 125L272.9 124.8M288.6 134.9L291.9 134.9"/><polygon points="288.6,134.9 307.6,144.5 310.9,144.5 291.9,134.9" fill="#ebbd2c"/><path class="g" d="M288.6 134.9L291.9 134.9M307.6 144.5L310.9 144.5"/><polygon points="307.6,144.5 326.6,153.9 329.8,153.8 310.9,144.5" fill="#eabe2c"/><path class="g" d="M307.6 144.5L310.9 144.5M326.6 153.9L329.8 153.8"/><polygon points="326.6,153.9 345.6,163.4 348.8,162.8 329.8,153.8" fill="#e9be2c"/><path class="g" d="M326.6 153.9L329.8 153.8M345.6 163.4L348.8 162.8"/><polygon points="171.5,75.6 190.5,85.1 193.7,84.1 174.8,74.6" fill="#f4bd2e"/><path class="g" d="M171.5 75.6L174.8 74.6M190.5 85.1L193.7 84.1"/><polygon points="190.5,85.1 209.5,94.7 212.7,93.9 193.7,84.1" fill="#f3bd2d"/><path class="g" d="M190.5 85.1L193.7 84.1M209.5 94.7L212.7 93.9"/><polygon points="209.5,94.7 228.4,104.7 231.7,103.9 212.7,93.9" fill="#f3bc2d"/><path class="g" d="M209.5 94.7L212.7 93.9M228.4 104.7L231.7 103.9"/><polygon points="228.4,104.7 247.4,114.9 250.7,114.3 231.7,103.9" fill="#f2bc2c"/><path class="g" d="M228.4 104.7L231.7 103.9M247.4 114.9L250.7 114.3"/><polygon points="247.4,114.9 266.4,125.3 269.7,125 250.7,114.3" fill="#f0bc2c"/><path class="g" d="M247.4 114.9L250.7 114.3M266.4 125.3L269.7 125"/><polygon points="266.4,125.3 285.4,135 288.6,134.9 269.7,125" fill="#eebd2c"/><path class="g" d="M266.4 125.3L269.7 125M285.4 135L288.6 134.9"/><polygon points="285.4,135 304.4,144.6 307.6,144.5 288.6,134.9" fill="#edbd2c"/><path class="g" d="M285.4 135L288.6 134.9M304.4 144.6L307.6 144.5"/><polygon points="304.4,144.6 323.3,154.2 326.6,153.9 307.6,144.5" fill="#ecbd2c"/><path class="g" d="M304.4 144.6L307.6 144.5M323.3 154.2L326.6 153.9"/><polygon points="323.3,154.2 342.3,164.1 345.6,163.4 326.6,153.9" fill="#ebbd2c"/><path class="g" d="M323.3 154.2L326.6 153.9M342.3 164.1L345.6 163.4"/><polygon points="168.2,76.6 187.2,86 190.5,85.1 171.5,75.6" fill="#f4bd2e"/><path class="g" d="M168.2 76.6L171.5 75.6M187.2 86L190.5 85.1"/><polygon points="187.2,86 206.2,95.6 209.5,94.7 190.5,85.1" fill="#f3bd2d"/><path class="g" d="M187.2 86L190.5 85.1M206.2 95.6L209.5 94.7"/><polygon points="206.2,95.6 225.2,105.4 228.4,104.7 209.5,94.7" fill="#f3bd2d"/><path class="g" d="M206.2 95.6L209.5 94.7M225.2 105.4L228.4 104.7"/><polygon points="225.2,105.4 244.2,115.5 247.4,114.9 228.4,104.7" fill="#f2bc2c"/><path class="g" d="M225.2 105.4L228.4 104.7M244.2 115.5L247.4 114.9"/><polygon points="244.2,115.5 263.1,125.8 266.4,125.3 247.4,114.9" fill="#f1bc2c"/><path class="g" d="M244.2 115.5L247.4 114.9M263.1 125.8L266.4 125.3"/><polygon points="263.1,125.8 282.1,135.4 285.4,135 266.4,125.3" fill="#efbd2c"/><path class="g" d="M263.1 125.8L266.4 125.3M282.1 135.4L285.4 135"/><polygon points="282.1,135.4 301.1,145 304.4,144.6 285.4,135" fill="#eebd2c"/><path class="g" d="M282.1 135.4L285.4 135M301.1 145L304.4 144.6"/><polygon points="301.1,145 320.1,154.6 323.3,154.2 304.4,144.6" fill="#edbd2c"/><path class="g" d="M301.1 145L304.4 144.6M320.1 154.6L323.3 154.2"/><polygon points="320.1,154.6 339.1,164.8 342.3,164.1 323.3,154.2" fill="#ecbd2c"/><path class="g" d="M320.1 154.6L323.3 154.2M339.1 164.8L342.3 164.1"/><polygon points="165,77.6 184,87 187.2,86 168.2,76.6" fill="#f4bd2e"/><path class="g" d="M165 77.6L168.2 76.6M184 87L187.2 86"/><polygon points="184,87 203,96.5 206.2,95.6 187.2,86" fill="#f3bd2d"/><path class="g" d="M184 87L187.2 86M203 96.5L206.2 95.6"/><polygon points="203,96.5 221.9,106.2 225.2,105.4 206.2,95.6" fill="#f3bd2d"/><path class="g" d="M203 96.5L206.2 95.6M221.9 106.2L225.2 105.4"/><polygon points="221.9,106.2 240.9,116.2 244.2,115.5 225.2,105.4" fill="#f3bc2d"/><path class="g" d="M221.9 106.2L225.2 105.4M240.9 116.2L244.2 115.5"/><polygon points="240.9,116.2 259.9,126.3 263.1,125.8 244.2,115.5" fill="#f2bc2c"/><path class="g" d="M240.9 116.2L244.2 115.5M259.9 126.3L263.1 125.8"/><polygon points="259.9,126.3 278.9,135.9 282.1,135.4 263.1,125.8" fill="#f0bc2c"/><path class="g" d="M259.9 126.3L263.1 125.8M278.9 135.9L282.1 135.4"/><polygon points="278.9,135.9 297.9,145.5 301.1,145 282.1,135.4" fill="#efbd2c"/><path class="g" d="M278.9 135.9L282.1 135.4M297.9 145.5L301.1 145"/><polygon points="297.9,145.5 316.8,155.1 320.1,154.6 301.1,145" fill="#eebd2c"/><path class="g" d="M297.9 145.5L301.1 145M316.8 155.1L320.1 154.6"/><polygon points="316.8,155.1 335.8,165.4 339.1,164.8 320.1,154.6" fill="#edbd2c"/><path class="g" d="M316.8 155.1L320.1 154.6M335.8 165.4L339.1 164.8"/><polygon points="161.7,78.6 180.7,88 184,87 165,77.6" fill="#f4bd2e"/><path class="g" d="M161.7 78.6L165 77.6M180.7 88L184 87"/><polygon points="180.7,88 199.7,97.4 203,96.5 184,87" fill="#f3bd2d"/><path class="g" d="M180.7 88L184 87M199.7 97.4L203 96.5"/><polygon points="199.7,97.4 218.7,107 221.9,106.2 203,96.5" fill="#f3bd2d"/><path class="g" d="M199.7 97.4L203 96.5M218.7 107L221.9 106.2"/><polygon points="218.7,107 237.7,116.9 240.9,116.2 221.9,106.2" fill="#f3bc2d"/><path class="g" d="M218.7 107L221.9 106.2M237.7 116.9L240.9 116.2"/><polygon points="237.7,116.9 256.6,126.9 259.9,126.3 240.9,116.2" fill="#f2bc2c"/><path class="g" d="M237.7 116.9L240.9 116.2M256.6 126.9L259.9 126.3"/><polygon points="256.6,126.9 275.6,136.4 278.9,135.9 259.9,126.3" fill="#f1bc2c"/><path class="g" d="M256.6 126.9L259.9 126.3M275.6 136.4L278.9 135.9"/><polygon points="275.6,136.4 294.6,146 297.9,145.5 278.9,135.9" fill="#f0bc2c"/><path class="g" d="M275.6 136.4L278.9 135.9M294.6 146L297.9 145.5"/><polygon points="294.6,146 313.6,155.7 316.8,155.1 297.9,145.5" fill="#efbd2c"/><path class="g" d="M294.6 146L297.9 145.5M313.6 155.7L316.8 155.1"/><polygon points="313.6,155.7 332.6,166.2 335.8,165.4 316.8,155.1" fill="#eebd2c"/><path class="g" d="M313.6 155.7L316.8 155.1M332.6 166.2L335.8 165.4"/><polygon points="158.5,79.6 177.5,88.9 180.7,88 161.7,78.6" fill="#f4bd2e"/><path class="g" d="M158.5 79.6L161.7 78.6M177.5 88.9L180.7 88"/><polygon points="177.5,88.9 196.4,98.3 199.7,97.4 180.7,88" fill="#f3bd2d"/><path class="g" d="M177.5 88.9L180.7 88M196.4 98.3L199.7 97.4"/><polygon points="196.4,98.3 215.4,107.9 218.7,107 199.7,97.4" fill="#f3bd2d"/><path class="g" d="M196.4 98.3L199.7 97.4M215.4 107.9L218.7 107"/><polygon points="215.4,107.9 234.4,117.6 237.7,116.9 218.7,107" fill="#f3bc2d"/><path class="g" d="M215.4 107.9L218.7 107M234.4 117.6L237.7 116.9"/><polygon points="234.4,117.6 253.4,127.5 256.6,126.9 237.7,116.9" fill="#f2bc2c"/><path class="g" d="M234.4 117.6L237.7 116.9M253.4 127.5L256.6 126.9"/><polygon points="253.4,127.5 272.4,137.1 275.6,136.4 256.6,126.9" fill="#f1bc2c"/><path class="g" d="M253.4 127.5L256.6 126.9M272.4 137.1L275.6 136.4"/><polygon points="272.4,137.1 291.3,146.7 294.6,146 275.6,136.4" fill="#f0bc2c"/><path class="g" d="M272.4 137.1L275.6 136.4M291.3 146.7L294.6 146"/><polygon points="291.3,146.7 310.3,156.3 313.6,155.7 294.6,146" fill="#efbd2c"/><path class="g" d="M291.3 146.7L294.6 146M310.3 156.3L313.6 155.7"/><polygon points="310.3,156.3 329.3,166.9 332.6,166.2 313.6,155.7" fill="#eebd2c"/><path class="g" d="M310.3 156.3L313.6 155.7M329.3 166.9L332.6 166.2"/><polygon points="155.2,80.6 174.2,89.9 177.5,88.9 158.5,79.6" fill="#f4bd2e"/><path class="g" d="M155.2 80.6L158.5 79.6M174.2 89.9L177.5 88.9"/><polygon points="174.2,89.9 193.2,99.2 196.4,98.3 177.5,88.9" fill="#f3bd2d"/><path class="g" d="M174.2 89.9L177.5 88.9M193.2 99.2L196.4 98.3"/><polygon points="193.2,99.2 212.2,108.7 215.4,107.9 196.4,98.3" fill="#f3bd2d"/><path class="g" d="M193.2 99.2L196.4 98.3M212.2 108.7L215.4 107.9"/><polygon points="212.2,108.7 231.2,118.4 234.4,117.6 215.4,107.9" fill="#f3bc2d"/><path class="g" d="M212.2 108.7L215.4 107.9M231.2 118.4L234.4 117.6"/><polygon points="231.2,118.4 250.1,128.1 253.4,127.5 234.4,117.6" fill="#f2bc2c"/><path class="g" d="M231.2 118.4L234.4 117.6M250.1 128.1L253.4 127.5"/><polygon points="250.1,128.1 269.1,137.7 272.4,137.1 253.4,127.5" fill="#f2bc2c"/><path class="g" d="M250.1 128.1L253.4 127.5M269.1 137.7L272.4 137.1"/><polygon points="269.1,137.7 288.1,147.3 291.3,146.7 272.4,137.1" fill="#f1bc2c"/><path class="g" d="M269.1 137.7L272.4 137.1M288.1 147.3L291.3 146.7"/><polygon points="288.1,147.3 307.1,157 310.3,156.3 291.3,146.7" fill="#f0bc2c"/><path class="g" d="M288.1 147.3L291.3 146.7M307.1 157L310.3 156.3"/><polygon points="307.1,157 326.1,167.7 329.3,166.9 310.3,156.3" fill="#efbd2c"/><path class="g" d="M307.1 157L310.3 156.3M326.1 167.7L329.3 166.9"/><polygon points="152,81.6 171,90.9 174.2,89.9 155.2,80.6" fill="#f4bd2e"/><path class="g" d="M152 81.6L155.2 80.6M171 90.9L174.2 89.9"/><polygon points="171,90.9 189.9,100.2 193.2,99.2 174.2,89.9" fill="#f3bd2d"/><path class="g" d="M171 90.9L174.2 89.9M189.9 100.2L193.2 99.2"/><polygon points="189.9,100.2 208.9,109.6 212.2,108.7 193.2,99.2" fill="#f3bd2d"/><path class="g" d="M189.9 100.2L193.2 99.2M208.9 109.6L212.2 108.7"/><polygon points="208.9,109.6 227.9,119.2 231.2,118.4 212.2,108.7" fill="#f3bd2d"/><path class="g" d="M208.9 109.6L212.2 108.7M227.9 119.2L231.2 118.4"/><polygon points="227.9,119.2 246.9,128.8 250.1,128.1 231.2,118.4" fill="#f3bc2d"/><path class="g" d="M227.9 119.2L231.2 118.4M246.9 128.8L250.1 128.1"/><polygon points="246.9,128.8 265.9,138.4 269.1,137.7 250.1,128.1" fill="#f2bc2c"/><path class="g" d="M246.9 128.8L250.1 128.1M265.9 138.4L269.1 137.7"/><polygon points="265.9,138.4 284.8,148.1 288.1,147.3 269.1,137.7" fill="#f2bc2c"/><path class="g" d="M265.9 138.4L269.1 137.7M284.8 148.1L288.1 147.3"/><polygon points="284.8,148.1 303.8,157.7 307.1,157 288.1,147.3" fill="#f0bc2c"/><path class="g" d="M284.8 148.1L288.1 147.3M303.8 157.7L307.1 157"/><polygon points="303.8,157.7 322.8,168.4 326.1,167.7 307.1,157" fill="#efbd2c"/><path class="g" d="M303.8 157.7L307.1 157M322.8 168.4L326.1 167.7"/><polygon points="148.7,82.6 167.7,91.8 171,90.9 152,81.6" fill="#f4bd2e"/><path class="g" d="M148.7 82.6L152 81.6M167.7 91.8L171 90.9"/><polygon points="167.7,91.8 186.7,101.1 189.9,100.2 171,90.9" fill="#f3bd2d"/><path class="g" d="M167.7 91.8L171 90.9M186.7 101.1L189.9 100.2"/><polygon points="186.7,101.1 205.7,110.5 208.9,109.6 189.9,100.2" fill="#f3bd2d"/><path class="g" d="M186.7 101.1L189.9 100.2M205.7 110.5L208.9 109.6"/><polygon points="205.7,110.5 224.7,120 227.9,119.2 208.9,109.6" fill="#f3bd2d"/><path class="g" d="M205.7 110.5L208.9 109.6M224.7 120L227.9 119.2"/><polygon points="224.7,120 243.6,129.6 246.9,128.8 227.9,119.2" fill="#f3bc2d"/><path class="g" d="M224.7 120L227.9 119.2M243.6 129.6L246.9 128.8"/><polygon points="243.6,129.6 262.6,139.2 265.9,138.4 246.9,128.8" fill="#f2bc2c"/><path class="g" d="M243.6 129.6L246.9 128.8M262.6 139.2L265.9 138.4"/><polygon points="262.6,139.2 281.6,148.8 284.8,148.1 265.9,138.4" fill="#f2bc2c"/><path class="g" d="M262.6 139.2L265.9 138.4M281.6 148.8L284.8 148.1"/><polygon points="281.6,148.8 300.6,158.4 303.8,157.7 284.8,148.1" fill="#f1bc2c"/><path class="g" d="M281.6 148.8L284.8 148.1M300.6 158.4L303.8 157.7"/><polygon points="300.6,158.4 319.6,169.1 322.8,168.4 303.8,157.7" fill="#f0bc2c"/><path class="g" d="M300.6 158.4L303.8 157.7M319.6 169.1L322.8 168.4"/><polygon points="145.5,83.6 164.5,92.8 167.7,91.8 148.7,82.6" fill="#f4bd2e"/><path class="g" d="M145.5 83.6L148.7 82.6M164.5 92.8L167.7 91.8"/><polygon points="164.5,92.8 183.4,102.1 186.7,101.1 167.7,91.8" fill="#f3bd2d"/><path class="g" d="M164.5 92.8L167.7 91.8M183.4 102.1L186.7 101.1"/><polygon points="183.4,102.1 202.4,111.4 205.7,110.5 186.7,101.1" fill="#f3bd2d"/><path class="g" d="M183.4 102.1L186.7 101.1M202.4 111.4L205.7 110.5"/><polygon points="202.4,111.4 221.4,120.8 224.7,120 205.7,110.5" fill="#f3bd2d"/><path class="g" d="M202.4 111.4L205.7 110.5M221.4 120.8L224.7 120"/><polygon points="221.4,120.8 240.4,130.3 243.6,129.6 224.7,120" fill="#f3bc2d"/><path class="g" d="M221.4 120.8L224.7 120M240.4 130.3L243.6 129.6"/><polygon points="240.4,130.3 259.4,140 262.6,139.2 243.6,129.6" fill="#f3bc2d"/><path class="g" d="M240.4 130.3L243.6 129.6M259.4 140L262.6 139.2"/><polygon points="259.4,140 278.3,149.6 281.6,148.8 262.6,139.2" fill="#f2bc2c"/><path class="g" d="M259.4 140L262.6 139.2M278.3 149.6L281.6 148.8"/><polygon points="278.3,149.6 297.3,159.2 300.6,158.4 281.6,148.8" fill="#f1bc2c"/><path class="g" d="M278.3 149.6L281.6 148.8M297.3 159.2L300.6 158.4"/><polygon points="297.3,159.2 316.3,169.8 319.6,169.1 300.6,158.4" fill="#f0bc2c"/><path class="g" d="M297.3 159.2L300.6 158.4M316.3 169.8L319.6 169.1"/><polygon points="142.2,84.6 161.2,93.8 164.5,92.8 145.5,83.6" fill="#f4bd2e"/><path class="g" d="M142.2 84.6L145.5 83.6M161.2 93.8L164.5 92.8"/><polygon points="161.2,93.8 180.2,103 183.4,102.1 164.5,92.8" fill="#f3bd2d"/><path class="g" d="M161.2 93.8L164.5 92.8M180.2 103L183.4 102.1"/><polygon points="180.2,103 199.2,112.3 202.4,111.4 183.4,102.1" fill="#f3bd2d"/><path class="g" d="M180.2 103L183.4 102.1M199.2 112.3L202.4 111.4"/><polygon points="199.2,112.3 218.1,121.7 221.4,120.8 202.4,111.4" fill="#f3bd2d"/><path class="g" d="M199.2 112.3L202.4 111.4M218.1 121.7L221.4 120.8"/><polygon points="218.1,121.7 237.1,131.1 240.4,130.3 221.4,120.8" fill="#f3bd2d"/><path class="g" d="M218.1 121.7L221.4 120.8M237.1 131.1L240.4 130.3"/><polygon points="237.1,131.1 256.1,140.7 259.4,140 240.4,130.3" fill="#f3bc2d"/><path class="g" d="M237.1 131.1L240.4 130.3M256.1 140.7L259.4 140"/><polygon points="256.1,140.7 275.1,150.4 278.3,149.6 259.4,140" fill="#f2bc2c"/><path class="g" d="M256.1 140.7L259.4 140M275.1 150.4L278.3 149.6"/><polygon points="275.1,150.4 294.1,160 297.3,159.2 278.3,149.6" fill="#f2bc2c"/><path class="g" d="M275.1 150.4L278.3 149.6M294.1 160L297.3 159.2"/><polygon points="294.1,160 313,170.4 316.3,169.8 297.3,159.2" fill="#f1bc2c"/><path class="g" d="M294.1 160L297.3 159.2M313 170.4L316.3 169.8"/><polygon points="139,85.6 158,94.8 161.2,93.8 142.2,84.6" fill="#f4bd2e"/><path class="g" d="M139 85.6L142.2 84.6M158 94.8L161.2 93.8"/><polygon points="158,94.8 176.9,104 180.2,103 161.2,93.8" fill="#f3bd2d"/><path class="g" d="M158 94.8L161.2 93.8M176.9 104L180.2 103"/><polygon points="176.9,104 195.9,113.2 199.2,112.3 180.2,103" fill="#f3bd2d"/><path class="g" d="M176.9 104L180.2 103M195.9 113.2L199.2 112.3"/><polygon points="195.9,113.2 214.9,122.5 218.1,121.7 199.2,112.3" fill="#f3bd2d"/><path class="g" d="M195.9 113.2L199.2 112.3M214.9 122.5L218.1 121.7"/><polygon points="214.9,122.5 233.9,131.9 237.1,131.1 218.1,121.7" fill="#f3bd2d"/><path class="g" d="M214.9 122.5L218.1 121.7M233.9 131.9L237.1 131.1"/><polygon points="233.9,131.9 252.9,141.6 256.1,140.7 237.1,131.1" fill="#f3bc2d"/><path class="g" d="M233.9 131.9L237.1 131.1M252.9 141.6L256.1 140.7"/><polygon points="252.9,141.6 271.8,151.2 275.1,150.4 256.1,140.7" fill="#f2bc2c"/><path class="g" d="M252.9 141.6L256.1 140.7M271.8 151.2L275.1 150.4"/><polygon points="271.8,151.2 290.8,160.8 294.1,160 275.1,150.4" fill="#f2bc2c"/><path class="g" d="M271.8 151.2L275.1 150.4M290.8 160.8L294.1 160"/><polygon points="290.8,160.8 309.8,171 313,170.4 294.1,160" fill="#f1bc2c"/><path class="g" d="M290.8 160.8L294.1 160M309.8 171L313 170.4"/><polygon points="135.7,86.6 154.7,95.8 158,94.8 139,85.6" fill="#f4bd2e"/><path class="g" d="M135.7 86.6L139 85.6M154.7 95.8L158 94.8"/><polygon points="154.7,95.8 173.7,104.9 176.9,104 158,94.8" fill="#f3bd2d"/><path class="g" d="M154.7 95.8L158 94.8M173.7 104.9L176.9 104"/><polygon points="173.7,104.9 192.7,114.2 195.9,113.2 176.9,104" fill="#f3bd2d"/><path class="g" d="M173.7 104.9L176.9 104M192.7 114.2L195.9 113.2"/><polygon points="192.7,114.2 211.6,123.4 214.9,122.5 195.9,113.2" fill="#f3bd2d"/><path class="g" d="M192.7 114.2L195.9 113.2M211.6 123.4L214.9 122.5"/><polygon points="211.6,123.4 230.6,132.7 233.9,131.9 214.9,122.5" fill="#f3bd2d"/><path class="g" d="M211.6 123.4L214.9 122.5M230.6 132.7L233.9 131.9"/><polygon points="230.6,132.7 249.6,142.4 252.9,141.6 233.9,131.9" fill="#f3bd2d"/><path class="g" d="M230.6 132.7L233.9 131.9M249.6 142.4L252.9 141.6"/><polygon points="249.6,142.4 268.6,152 271.8,151.2 252.9,141.6" fill="#f3bc2d"/><path class="g" d="M249.6 142.4L252.9 141.6M268.6 152L271.8 151.2"/><polygon points="268.6,152 287.6,161.6 290.8,160.8 271.8,151.2" fill="#f2bc2c"/><path class="g" d="M268.6 152L271.8 151.2M287.6 161.6L290.8 160.8"/><polygon points="287.6,161.6 306.5,171.6 309.8,171 290.8,160.8" fill="#f1bc2c"/><path class="g" d="M287.6 161.6L290.8 160.8M306.5 171.6L309.8 171"/><polygon points="132.5,87.6 151.4,96.8 154.7,95.8 135.7,86.6" fill="#f4bd2e"/><path class="g" d="M132.5 87.6L135.7 86.6M151.4 96.8L154.7 95.8"/><polygon points="151.4,96.8 170.4,105.9 173.7,104.9 154.7,95.8" fill="#f3bd2d"/><path class="g" d="M151.4 96.8L154.7 95.8M170.4 105.9L173.7 104.9"/><polygon points="170.4,105.9 189.4,115.1 192.7,114.2 173.7,104.9" fill="#f3bd2d"/><path class="g" d="M170.4 105.9L173.7 104.9M189.4 115.1L192.7 114.2"/><polygon points="189.4,115.1 208.4,124.3 211.6,123.4 192.7,114.2" fill="#f3bd2d"/><path class="g" d="M189.4 115.1L192.7 114.2M208.4 124.3L211.6 123.4"/><polygon points="208.4,124.3 227.4,133.6 230.6,132.7 211.6,123.4" fill="#f3bd2d"/><path class="g" d="M208.4 124.3L211.6 123.4M227.4 133.6L230.6 132.7"/><polygon points="227.4,133.6 246.3,143.2 249.6,142.4 230.6,132.7" fill="#f3bd2d"/><path class="g" d="M227.4 133.6L230.6 132.7M246.3 143.2L249.6 142.4"/><polygon points="246.3,143.2 265.3,152.8 268.6,152 249.6,142.4" fill="#f3bc2d"/><path class="g" d="M246.3 143.2L249.6 142.4M265.3 152.8L268.6 152"/><polygon points="265.3,152.8 284.3,162.5 287.6,161.6 268.6,152" fill="#f2bc2c"/><path class="g" d="M265.3 152.8L268.6 152M284.3 162.5L287.6 161.6"/><polygon points="284.3,162.5 303.3,172.2 306.5,171.6 287.6,161.6" fill="#f2bc2c"/><path class="g" d="M284.3 162.5L287.6 161.6M303.3 172.2L306.5 171.6"/><polygon points="129.2,88.6 148.2,97.7 151.4,96.8 132.5,87.6" fill="#f4bd2e"/><path class="g" d="M129.2 88.6L132.5 87.6M148.2 97.7L151.4 96.8"/><polygon points="148.2,97.7 167.2,106.9 170.4,105.9 151.4,96.8" fill="#f3bd2d"/><path class="g" d="M148.2 97.7L151.4 96.8M167.2 106.9L170.4 105.9"/><polygon points="167.2,106.9 186.2,116.1 189.4,115.1 170.4,105.9" fill="#f3bd2d"/><path class="g" d="M167.2 106.9L170.4 105.9M186.2 116.1L189.4 115.1"/><polygon points="186.2,116.1 205.1,125.3 208.4,124.3 189.4,115.1" fill="#f3bd2d"/><path class="g" d="M186.2 116.1L189.4 115.1M205.1 125.3L208.4 124.3"/><polygon points="205.1,125.3 224.1,134.5 227.4,133.6 208.4,124.3" fill="#f3bd2d"/><path class="g" d="M205.1 125.3L208.4 124.3M224.1 134.5L227.4 133.6"/><polygon points="224.1,134.5 243.1,144.1 246.3,143.2 227.4,133.6" fill="#f3bd2d"/><path class="g" d="M224.1 134.5L227.4 133.6M243.1 144.1L246.3 143.2"/><polygon points="243.1,144.1 262.1,153.7 265.3,152.8 246.3,143.2" fill="#f3bc2d"/><path class="g" d="M243.1 144.1L246.3 143.2M262.1 153.7L265.3 152.8"/><polygon points="262.1,153.7 281.1,163.3 284.3,162.5 265.3,152.8" fill="#f2bc2c"/><path class="g" d="M262.1 153.7L265.3 152.8M281.1 163.3L284.3 162.5"/><polygon points="281.1,163.3 300,172.9 303.3,172.2 284.3,162.5" fill="#f2bc2c"/><path class="g" d="M281.1 163.3L284.3 162.5M300 172.9L303.3 172.2"/><polygon points="126,89.6 144.9,98.7 148.2,97.7 129.2,88.6" fill="#f4bd2e"/><path class="g" d="M126 89.6L129.2 88.6M144.9 98.7L148.2 97.7"/><polygon points="144.9,98.7 163.9,107.9 167.2,106.9 148.2,97.7" fill="#f3bd2d"/><path class="g" d="M144.9 98.7L148.2 97.7M163.9 107.9L167.2 106.9"/><polygon points="163.9,107.9 182.9,117 186.2,116.1 167.2,106.9" fill="#f3bd2d"/><path class="g" d="M163.9 107.9L167.2 106.9M182.9 117L186.2 116.1"/><polygon points="182.9,117 201.9,126.2 205.1,125.3 186.2,116.1" fill="#f3bd2d"/><path class="g" d="M182.9 117L186.2 116.1M201.9 126.2L205.1 125.3"/><polygon points="201.9,126.2 220.9,135.4 224.1,134.5 205.1,125.3" fill="#f3bd2d"/><path class="g" d="M201.9 126.2L205.1 125.3M220.9 135.4L224.1 134.5"/><polygon points="220.9,135.4 239.8,145 243.1,144.1 224.1,134.5" fill="#f3bd2d"/><path class="g" d="M220.9 135.4L224.1 134.5M239.8 145L243.1 144.1"/><polygon points="239.8,145 258.8,154.6 262.1,153.7 243.1,144.1" fill="#f3bc2d"/><path class="g" d="M239.8 145L243.1 144.1M258.8 154.6L262.1 153.7"/><polygon points="258.8,154.6 277.8,164.2 281.1,163.3 262.1,153.7" fill="#f2bc2c"/><path class="g" d="M258.8 154.6L262.1 153.7M277.8 164.2L281.1 163.3"/><polygon points="277.8,164.2 296.8,173.7 300,172.9 281.1,163.3" fill="#f2bc2c"/><path class="g" d="M277.8 164.2L281.1 163.3M296.8 173.7L300 172.9"/><polygon points="122.7,90.6 141.7,99.7 144.9,98.7 126,89.6" fill="#f4bd2e"/><path class="g" d="M122.7 90.6L126 89.6M141.7 99.7L144.9 98.7"/><polygon points="141.7,99.7 160.7,108.8 163.9,107.9 144.9,98.7" fill="#f3bd2d"/><path class="g" d="M141.7 99.7L144.9 98.7M160.7 108.8L163.9 107.9"/><polygon points="160.7,108.8 179.6,118 182.9,117 163.9,107.9" fill="#f3bd2d"/><path class="g" d="M160.7 108.8L163.9 107.9M179.6 118L182.9 117"/><polygon points="179.6,118 198.6,127.1 201.9,126.2 182.9,117" fill="#f3bd2d"/><path class="g" d="M179.6 118L182.9 117M198.6 127.1L201.9 126.2"/><polygon points="198.6,127.1 217.6,136.3 220.9,135.4 201.9,126.2" fill="#f3bd2d"/><path class="g" d="M198.6 127.1L201.9 126.2M217.6 136.3L220.9 135.4"/><polygon points="217.6,136.3 236.6,145.8 239.8,145 220.9,135.4" fill="#f3bd2d"/><path class="g" d="M217.6 136.3L220.9 135.4M236.6 145.8L239.8 145"/><polygon points="236.6,145.8 255.6,155.5 258.8,154.6 239.8,145" fill="#f3bd2d"/><path class="g" d="M236.6 145.8L239.8 145M255.6 155.5L258.8 154.6"/><polygon points="255.6,155.5 274.5,165.1 277.8,164.2 258.8,154.6" fill="#f3bc2d"/><path class="g" d="M255.6 155.5L258.8 154.6M274.5 165.1L277.8 164.2"/><polygon points="274.5,165.1 293.5,174.5 296.8,173.7 277.8,164.2" fill="#f2bc2c"/><path class="g" d="M274.5 165.1L277.8 164.2M293.5 174.5L296.8 173.7"/><polygon points="119.5,91.6 138.4,100.7 141.7,99.7 122.7,90.6" fill="#f4bd2e"/><path class="g" d="M119.5 91.6L122.7 90.6M138.4 100.7L141.7 99.7"/><polygon points="138.4,100.7 157.4,109.8 160.7,108.8 141.7,99.7" fill="#f3bd2d"/><path class="g" d="M138.4 100.7L141.7 99.7M157.4 109.8L160.7 108.8"/><polygon points="157.4,109.8 176.4,119 179.6,118 160.7,108.8" fill="#f3bd2d"/><path class="g" d="M157.4 109.8L160.7 108.8M176.4 119L179.6 118"/><polygon points="176.4,119 195.4,128.1 198.6,127.1 179.6,118" fill="#f3bd2d"/><path class="g" d="M176.4 119L179.6 118M195.4 128.1L198.6 127.1"/><polygon points="195.4,128.1 214.4,137.3 217.6,136.3 198.6,127.1" fill="#f3bd2d"/><path class="g" d="M195.4 128.1L198.6 127.1M214.4 137.3L217.6 136.3"/><polygon points="214.4,137.3 233.3,146.7 236.6,145.8 217.6,136.3" fill="#f3bd2d"/><path class="g" d="M214.4 137.3L217.6 136.3M233.3 146.7L236.6 145.8"/><polygon points="233.3,146.7 252.3,156.3 255.6,155.5 236.6,145.8" fill="#f3bd2d"/><path class="g" d="M233.3 146.7L236.6 145.8M252.3 156.3L255.6 155.5"/><polygon points="252.3,156.3 271.3,165.9 274.5,165.1 255.6,155.5" fill="#f3bc2d"/><path class="g" d="M252.3 156.3L255.6 155.5M271.3 165.9L274.5 165.1"/><polygon points="271.3,165.9 290.3,175.3 293.5,174.5 274.5,165.1" fill="#f2bc2c"/><path class="g" d="M271.3 165.9L274.5 165.1M290.3 175.3L293.5 174.5"/><polygon points="116.2,92.6 135.2,101.7 138.4,100.7 119.5,91.6" fill="#f4bd2e"/><path class="g" d="M116.2 92.6L119.5 91.6M135.2 101.7L138.4 100.7"/><polygon points="135.2,101.7 154.2,110.8 157.4,109.8 138.4,100.7" fill="#f3bd2d"/><path class="g" d="M135.2 101.7L138.4 100.7M154.2 110.8L157.4 109.8"/><polygon points="154.2,110.8 173.1,119.9 176.4,119 157.4,109.8" fill="#f3bd2d"/><path class="g" d="M154.2 110.8L157.4 109.8M173.1 119.9L176.4 119"/><polygon points="173.1,119.9 192.1,129.1 195.4,128.1 176.4,119" fill="#f3bd2d"/><path class="g" d="M173.1 119.9L176.4 119M192.1 129.1L195.4 128.1"/><polygon points="192.1,129.1 211.1,138.2 214.4,137.3 195.4,128.1" fill="#f3bd2d"/><path class="g" d="M192.1 129.1L195.4 128.1M211.1 138.2L214.4 137.3"/><polygon points="211.1,138.2 230.1,147.6 233.3,146.7 214.4,137.3" fill="#f3bd2d"/><path class="g" d="M211.1 138.2L214.4 137.3M230.1 147.6L233.3 146.7"/><polygon points="230.1,147.6 249.1,157.2 252.3,156.3 233.3,146.7" fill="#f3bd2d"/><path class="g" d="M230.1 147.6L233.3 146.7M249.1 157.2L252.3 156.3"/><polygon points="249.1,157.2 268,166.8 271.3,165.9 252.3,156.3" fill="#f3bc2d"/><path class="g" d="M249.1 157.2L252.3 156.3M268 166.8L271.3 165.9"/><polygon points="268,166.8 287,176.1 290.3,175.3 271.3,165.9" fill="#f2bc2c"/><path class="g" d="M268 166.8L271.3 165.9M287 176.1L290.3 175.3"/><polygon points="112.9,93.6 131.9,102.7 135.2,101.7 116.2,92.6" fill="#f4bd2e"/><path class="g" d="M112.9 93.6L116.2 92.6M131.9 102.7L135.2 101.7"/><polygon points="131.9,102.7 150.9,111.8 154.2,110.8 135.2,101.7" fill="#f3bd2d"/><path class="g" d="M131.9 102.7L135.2 101.7M150.9 111.8L154.2 110.8"/><polygon points="150.9,111.8 169.9,120.9 173.1,119.9 154.2,110.8" fill="#f3bd2d"/><path class="g" d="M150.9 111.8L154.2 110.8M169.9 120.9L173.1 119.9"/><polygon points="169.9,120.9 188.9,130 192.1,129.1 173.1,119.9" fill="#f3bd2d"/><path class="g" d="M169.9 120.9L173.1 119.9M188.9 130L192.1 129.1"/><polygon points="188.9,130 207.8,139.1 211.1,138.2 192.1,129.1" fill="#f3bd2d"/><path class="g" d="M188.9 130L192.1 129.1M207.8 139.1L211.1 138.2"/><polygon points="207.8,139.1 226.8,148.5 230.1,147.6 211.1,138.2" fill="#f3bd2d"/><path class="g" d="M207.8 139.1L211.1 138.2M226.8 148.5L230.1 147.6"/><polygon points="226.8,148.5 245.8,158.1 249.1,157.2 230.1,147.6" fill="#f3bd2d"/><path class="g" d="M226.8 148.5L230.1 147.6M245.8 158.1L249.1 157.2"/><polygon points="245.8,158.1 264.8,167.7 268,166.8 249.1,157.2" fill="#f3bc2d"/><path class="g" d="M245.8 158.1L249.1 157.2M264.8 167.7L268 166.8"/><polygon points="264.8,167.7 283.8,176.9 287,176.1 268,166.8" fill="#f2bc2c"/><path class="g" d="M264.8 167.7L268 166.8M283.8 176.9L287 176.1"/><polygon points="109.7,94.6 128.7,103.7 131.9,102.7 112.9,93.6" fill="#f4bd2e"/><path class="g" d="M109.7 94.6L112.9 93.6M128.7 103.7L131.9 102.7"/><polygon points="128.7,103.7 147.7,112.8 150.9,111.8 131.9,102.7" fill="#f3bd2d"/><path class="g" d="M128.7 103.7L131.9 102.7M147.7 112.8L150.9 111.8"/><polygon points="147.7,112.8 166.6,121.9 169.9,120.9 150.9,111.8" fill="#f3bd2d"/><path class="g" d="M147.7 112.8L150.9 111.8M166.6 121.9L169.9 120.9"/><polygon points="166.6,121.9 185.6,131 188.9,130 169.9,120.9" fill="#f3bd2d"/><path class="g" d="M166.6 121.9L169.9 120.9M185.6 131L188.9 130"/><polygon points="185.6,131 204.6,140.1 207.8,139.1 188.9,130" fill="#f3bd2d"/><path class="g" d="M185.6 131L188.9 130M204.6 140.1L207.8 139.1"/><polygon points="204.6,140.1 223.6,149.4 226.8,148.5 207.8,139.1" fill="#f3bd2d"/><path class="g" d="M204.6 140.1L207.8 139.1M223.6 149.4L226.8 148.5"/><polygon points="223.6,149.4 242.6,159 245.8,158.1 226.8,148.5" fill="#f3bd2d"/><path class="g" d="M223.6 149.4L226.8 148.5M242.6 159L245.8 158.1"/><polygon points="242.6,159 261.5,168.6 264.8,167.7 245.8,158.1" fill="#f3bc2d"/><path class="g" d="M242.6 159L245.8 158.1M261.5 168.6L264.8 167.7"/><polygon points="261.5,168.6 280.5,177.7 283.8,176.9 264.8,167.7" fill="#f2bc2c"/><path class="g" d="M261.5 168.6L264.8 167.7M280.5 177.7L283.8 176.9"/><polygon points="106.4,95.7 125.4,104.7 128.7,103.7 109.7,94.6" fill="#f4bd2e"/><path class="g" d="M106.4 95.7L109.7 94.6M125.4 104.7L128.7 103.7"/><polygon points="125.4,104.7 144.4,113.8 147.7,112.8 128.7,103.7" fill="#f3bd2d"/><path class="g" d="M125.4 104.7L128.7 103.7M144.4 113.8L147.7 112.8"/><polygon points="144.4,113.8 163.4,122.9 166.6,121.9 147.7,112.8" fill="#f3bd2d"/><path class="g" d="M144.4 113.8L147.7 112.8M163.4 122.9L166.6 121.9"/><polygon points="163.4,122.9 182.4,132 185.6,131 166.6,121.9" fill="#f3bd2d"/><path class="g" d="M163.4 122.9L166.6 121.9M182.4 132L185.6 131"/><polygon points="182.4,132 201.3,141 204.6,140.1 185.6,131" fill="#f3bd2d"/><path class="g" d="M182.4 132L185.6 131M201.3 141L204.6 140.1"/><polygon points="201.3,141 220.3,150.3 223.6,149.4 204.6,140.1" fill="#f3bd2d"/><path class="g" d="M201.3 141L204.6 140.1M220.3 150.3L223.6 149.4"/><polygon points="220.3,150.3 239.3,159.9 242.6,159 223.6,149.4" fill="#f3bd2d"/><path class="g" d="M220.3 150.3L223.6 149.4M239.3 159.9L242.6 159"/><polygon points="239.3,159.9 258.3,169.5 261.5,168.6 242.6,159" fill="#f3bd2d"/><path class="g" d="M239.3 159.9L242.6 159M258.3 169.5L261.5 168.6"/><polygon points="258.3,169.5 277.3,178.6 280.5,177.7 261.5,168.6" fill="#f3bc2d"/><path class="g" d="M258.3 169.5L261.5 168.6M277.3 178.6L280.5 177.7"/><polygon points="103.2,96.7 122.2,105.7 125.4,104.7 106.4,95.7" fill="#f4bd2e"/><path class="g" d="M103.2 96.7L106.4 95.7M122.2 105.7L125.4 104.7"/><polygon points="122.2,105.7 141.2,114.8 144.4,113.8 125.4,104.7" fill="#f3bd2d"/><path class="g" d="M122.2 105.7L125.4 104.7M141.2 114.8L144.4 113.8"/><polygon points="141.2,114.8 160.1,123.9 163.4,122.9 144.4,113.8" fill="#f3bd2d"/><path class="g" d="M141.2 114.8L144.4 113.8M160.1 123.9L163.4 122.9"/><polygon points="160.1,123.9 179.1,132.9 182.4,132 163.4,122.9" fill="#f3bd2d"/><path class="g" d="M160.1 123.9L163.4 122.9M179.1 132.9L182.4 132"/><polygon points="179.1,132.9 198.1,142 201.3,141 182.4,132" fill="#f3bd2d"/><path class="g" d="M179.1 132.9L182.4 132M198.1 142L201.3 141"/><polygon points="198.1,142 217.1,151.2 220.3,150.3 201.3,141" fill="#f3bd2d"/><path class="g" d="M198.1 142L201.3 141M217.1 151.2L220.3 150.3"/><polygon points="217.1,151.2 236.1,160.8 239.3,159.9 220.3,150.3" fill="#f3bd2d"/><path class="g" d="M217.1 151.2L220.3 150.3M236.1 160.8L239.3 159.9"/><polygon points="236.1,160.8 255,170.4 258.3,169.5 239.3,159.9" fill="#f3bd2d"/><path class="g" d="M236.1 160.8L239.3 159.9M255 170.4L258.3 169.5"/><polygon points="255,170.4 274,179.5 277.3,178.6 258.3,169.5" fill="#f3bc2d"/><path class="g" d="M255 170.4L258.3 169.5M274 179.5L277.3 178.6"/><polygon points="99.9,97.7 118.9,106.7 122.2,105.7 103.2,96.7" fill="#f4bd2e"/><path class="g" d="M99.9 97.7L103.2 96.7M118.9 106.7L122.2 105.7"/><polygon points="118.9,106.7 137.9,115.8 141.2,114.8 122.2,105.7" fill="#f3bd2d"/><path class="g" d="M118.9 106.7L122.2 105.7M137.9 115.8L141.2 114.8"/><polygon points="137.9,115.8 156.9,124.8 160.1,123.9 141.2,114.8" fill="#f3bd2d"/><path class="g" d="M137.9 115.8L141.2 114.8M156.9 124.8L160.1 123.9"/><polygon points="156.9,124.8 175.9,133.9 179.1,132.9 160.1,123.9" fill="#f3bd2d"/><path class="g" d="M156.9 124.8L160.1 123.9M175.9 133.9L179.1 132.9"/><polygon points="175.9,133.9 194.8,143 198.1,142 179.1,132.9" fill="#f3bd2d"/><path class="g" d="M175.9 133.9L179.1 132.9M194.8 143L198.1 142"/><polygon points="194.8,143 213.8,152.1 217.1,151.2 198.1,142" fill="#f3bd2d"/><path class="g" d="M194.8 143L198.1 142M213.8 152.1L217.1 151.2"/><polygon points="213.8,152.1 232.8,161.7 236.1,160.8 217.1,151.2" fill="#f3bd2d"/><path class="g" d="M213.8 152.1L217.1 151.2M232.8 161.7L236.1 160.8"/><polygon points="232.8,161.7 251.8,171.3 255,170.4 236.1,160.8" fill="#f3bd2d"/><path class="g" d="M232.8 161.7L236.1 160.8M251.8 171.3L255 170.4"/><polygon points="251.8,171.3 270.8,180.4 274,179.5 255,170.4" fill="#f3bc2d"/><path class="g" d="M251.8 171.3L255 170.4M270.8 180.4L274 179.5"/><polygon points="96.7,98.7 115.7,107.7 118.9,106.7 99.9,97.7" fill="#f4bd2e"/><path class="g" d="M96.7 98.7L99.9 97.7M115.7 107.7L118.9 106.7"/><polygon points="115.7,107.7 134.6,116.8 137.9,115.8 118.9,106.7" fill="#f3bd2d"/><path class="g" d="M115.7 107.7L118.9 106.7M134.6 116.8L137.9 115.8"/><polygon points="134.6,116.8 153.6,125.8 156.9,124.8 137.9,115.8" fill="#f3bd2d"/><path class="g" d="M134.6 116.8L137.9 115.8M153.6 125.8L156.9 124.8"/><polygon points="153.6,125.8 172.6,134.9 175.9,133.9 156.9,124.8" fill="#f3bd2d"/><path class="g" d="M153.6 125.8L156.9 124.8M172.6 134.9L175.9 133.9"/><polygon points="172.6,134.9 191.6,144 194.8,143 175.9,133.9" fill="#f3bd2d"/><path class="g" d="M172.6 134.9L175.9 133.9M191.6 144L194.8 143"/><polygon points="191.6,144 210.6,153.1 213.8,152.1 194.8,143" fill="#f3bd2d"/><path class="g" d="M191.6 144L194.8 143M210.6 153.1L213.8 152.1"/><polygon points="210.6,153.1 229.5,162.7 232.8,161.7 213.8,152.1" fill="#f3bd2d"/><path class="g" d="M210.6 153.1L213.8 152.1M229.5 162.7L232.8 161.7"/><polygon points="229.5,162.7 248.5,172.3 251.8,171.3 232.8,161.7" fill="#f3bd2d"/><path class="g" d="M229.5 162.7L232.8 161.7M248.5 172.3L251.8 171.3"/><polygon points="248.5,172.3 267.5,181.3 270.8,180.4 251.8,171.3" fill="#f3bc2d"/><path class="g" d="M248.5 172.3L251.8 171.3M267.5 181.3L270.8 180.4"/><polygon points="93.4,99.7 112.4,108.7 115.7,107.7 96.7,98.7" fill="#f4bd2e"/><path class="g" d="M93.4 99.7L96.7 98.7M112.4 108.7L115.7 107.7"/><polygon points="112.4,108.7 131.4,117.8 134.6,116.8 115.7,107.7" fill="#f4bd2e"/><path class="g" d="M112.4 108.7L115.7 107.7M131.4 117.8L134.6 116.8"/><polygon points="131.4,117.8 150.4,126.8 153.6,125.8 134.6,116.8" fill="#f4bd2e"/><path class="g" d="M131.4 117.8L134.6 116.8M150.4 126.8L153.6 125.8"/><polygon points="150.4,126.8 169.4,135.9 172.6,134.9 153.6,125.8" fill="#f4bd2e"/><path class="g" d="M150.4 126.8L153.6 125.8M169.4 135.9L172.6 134.9"/><polygon points="169.4,135.9 188.3,145 191.6,144 172.6,134.9" fill="#f4bd2e"/><path class="g" d="M169.4 135.9L172.6 134.9M188.3 145L191.6 144"/><polygon points="188.3,145 207.3,154 210.6,153.1 191.6,144" fill="#f4bd2e"/><path class="g" d="M188.3 145L191.6 144M207.3 154L210.6 153.1"/><polygon points="207.3,154 226.3,163.6 229.5,162.7 210.6,153.1" fill="#f4bd2e"/><path class="g" d="M207.3 154L210.6 153.1M226.3 163.6L229.5 162.7"/><polygon points="226.3,163.6 245.3,173.2 248.5,172.3 229.5,162.7" fill="#f3bd2d"/><path class="g" d="M226.3 163.6L229.5 162.7M245.3 173.2L248.5 172.3"/><polygon points="245.3,173.2 264.3,182.3 267.5,181.3 248.5,172.3" fill="#f3bc2d"/><path class="g" d="M245.3 173.2L248.5 172.3M264.3 182.3L267.5 181.3"/></g>
</g>
<g fill="none" stroke="#262626" stroke-width="1.2">
<path d="M71.2 40.9L71.2 308.1L261 398.7L495.2 326.6"/>
<path d="M71.2 88.3l-6 -3.3M71.2 143.2l-6 -3.3M71.2 198.2l-6 -3.3M71.2 253.1l-6 -3.3M71.2 308.1l-6 -3.3M71.2 308.1l-7 2.2M109.2 326.2l-7 2.2M147.1 344.3l-7 2.2M185.1 362.5l-7 2.2M223 380.6l-7 2.2M261 398.7l-7 2.2M261 398.7l6.5 3.1M319.6 380.7l6.5 3.1M378.1 362.6l6.5 3.1M436.6 344.6l6.5 3.1M495.2 326.6l6.5 3.1"/>
</g>
<g font-family="'Liberation Sans', Arial, sans-serif" font-size="22.2" fill="#262626">
<g text-anchor="end">
<text x="59" y="92.5">65</text>
<text x="59" y="147.4">60</text>
<text x="59" y="202.4">55</text>
<text x="59" y="257.3">50</text>
<text x="59" y="312.3">45</text>
</g><g text-anchor="middle" font-size="21.5">
<text x="51.2" y="335.4">0</text>
<text x="81.7" y="352.8">0.2</text>
<text x="119" y="370.6">0.4</text>
<text x="157.2" y="388.7">0.6</text>
<text x="195.3" y="407.5">0.8</text>
<text x="242.3" y="425.3">1</text>
<text x="278.4" y="427.4">0</text>
<text x="343.3" y="408.8">90</text>
<text x="409" y="390.3">180</text>
<text x="466" y="372.6">270</text>
<text x="525" y="354.6">360</text>
</g></g>
<g fill="#262626" font-family="'Liberation Sans', Arial, sans-serif" font-size="25.5">
<text x="64" y="416.8">|</text>
<text x="71.2" y="416.8" font-family="'Liberation Serif', 'Times New Roman', serif" font-size="25.5">Γ</text>
<text x="86.2" y="428.6" font-size="19.5">S</text>
<text x="97.4" y="416.8">(2</text>
<text x="119.8" y="416.8" font-family="'Liberation Serif', 'Times New Roman', serif" font-style="italic" font-size="24.5">ω</text>
<text x="136.4" y="416.8">)|</text>
<text x="375" y="417.8" font-family="'Liberation Serif', 'Times New Roman', serif" font-style="italic" font-size="25.5">ϕ</text>
<text x="388.4" y="417.8">(</text>
<text x="396.3" y="417.8" font-family="'Liberation Serif', 'Times New Roman', serif" font-size="25.5">Γ</text>
<text x="413.2" y="429.4" font-size="19.5">S</text>
<text x="425" y="417.8">(2</text>
<text x="447.5" y="417.8" font-family="'Liberation Serif', 'Times New Roman', serif" font-style="italic" font-size="24.5">ω</text>
<text x="464.4" y="417.8">))</text>
<g transform="translate(25.6,204.6) rotate(-90)"><text x="0" y="0" font-size="24.2"><tspan font-family="'Liberation Serif', 'Times New Roman', serif" font-style="italic" font-size="25.5">η</tspan> (%)</text></g>
<text x="149.5" y="29.3" font-size="26.4"><tspan font-family="'Liberation Serif', 'Times New Roman', serif" font-style="italic" font-size="25">ω</tspan> = 2 GHz</text>
</g>
<path d="M438 38.9L414.5 65.8" stroke="#f00" stroke-width="2.4" fill="none"/><path d="M408.3 72.8L412.5 59.2L414.5 65.8L421.2 66.8Z" fill="#f00"/>
<circle cx="404" cy="87.7" r="4.4" fill="#f00"/>
<text x="420.5" y="21.7" fill="#f00" font-family="'Liberation Serif', 'Times New Roman', serif" font-style="italic" font-size="26">η</text>
<text x="434.4" y="33.2" fill="#f00" font-family="'Liberation Sans', Arial, sans-serif" font-size="19.7">max</text>
<path d="M438.4 311.1L411.7 338.9" stroke="#00f" stroke-width="2.4" fill="none"/><path d="M405.2 345.6L410.1 332.2L411.7 338.9L418.4 340.2Z" fill="#00f"/>
<circle cx="400.9" cy="351.9" r="4.4" fill="#00f"/>
<text x="432" y="288.2" fill="#00f" font-family="'Liberation Serif', 'Times New Roman', serif" font-style="italic" font-size="26">η</text>
<text x="445.8" y="300.3" fill="#00f" font-family="'Liberation Sans', Arial, sans-serif" font-size="19.7">min</text>
<rect x="78.8" y="143" width="239.4" height="98.9" fill="#fff" stroke="#555" stroke-width="0.9"/>
<path d="M79.8 154.8H94.4" stroke="#f00" stroke-width="2.2"/>
<circle cx="87.2" cy="179" r="4.9" fill="#fff" stroke="#f00" stroke-width="1.6"/>
<circle cx="87.2" cy="204.5" r="5.6" fill="#f00"/>
<circle cx="87.2" cy="229.9" r="4.8" fill="#000" stroke="#f00" stroke-width="1.5"/>
<g fill="#000" font-family="'Liberation Sans', Arial, sans-serif" font-size="14.7">
<text x="95.6" y="156.5">Optimal</text>
<text x="147.3" y="156.5" font-family="'Liberation Serif', 'Times New Roman', serif" font-size="15">Γ</text>
<text x="157.6" y="163.5" font-size="12">S</text>
<text x="167.4" y="156.5">(2</text>
<text x="180.4" y="156.5" font-family="'Liberation Serif', 'Times New Roman', serif" font-style="italic" font-size="16">ω</text>
<text x="191.6" y="156.5">)</text>
<text x="198.6" y="156.5">for</text>
<text x="220" y="156.5" font-family="'Liberation Serif', 'Times New Roman', serif" font-style="italic" font-size="15.5">η</text>
<text x="228.6" y="163.5" font-size="11.6">max</text>
<text x="95.6" y="182.1">Optimal</text>
<text x="147.3" y="182.1" font-family="'Liberation Serif', 'Times New Roman', serif" font-size="15">Γ</text>
<text x="157.6" y="189.1" font-size="12">S</text>
<text x="167.4" y="182.1">(2</text>
<text x="180.4" y="182.1" font-family="'Liberation Serif', 'Times New Roman', serif" font-style="italic" font-size="16">ω</text>
<text x="191.6" y="182.1">)</text>
<text x="198.1" y="182.1">when</text>
<text x="238" y="182.1" font-family="'Liberation Serif', 'Times New Roman', serif" font-style="italic" font-size="16">ω</text>
<text x="252.4" y="182.1">=</text>
<text x="264.1" y="182.1">1.3 GHz</text>
<text x="95.6" y="207.7">Optimal</text>
<text x="147.3" y="207.7" font-family="'Liberation Serif', 'Times New Roman', serif" font-size="15">Γ</text>
<text x="157.6" y="214.7" font-size="12">S</text>
<text x="167.4" y="207.7">(2</text>
<text x="180.4" y="207.7" font-family="'Liberation Serif', 'Times New Roman', serif" font-style="italic" font-size="16">ω</text>
<text x="191.6" y="207.7">)</text>
<text x="198.1" y="207.7">when</text>
<text x="238" y="207.7" font-family="'Liberation Serif', 'Times New Roman', serif" font-style="italic" font-size="16">ω</text>
<text x="252.4" y="207.7">=</text>
<text x="264.1" y="207.7">2 GHz</text>
<text x="95.6" y="233.3">Optimal</text>
<text x="147.3" y="233.3" font-family="'Liberation Serif', 'Times New Roman', serif" font-size="15">Γ</text>
<text x="157.6" y="240.3" font-size="12">S</text>
<text x="167.4" y="233.3">(2</text>
<text x="180.4" y="233.3" font-family="'Liberation Serif', 'Times New Roman', serif" font-style="italic" font-size="16">ω</text>
<text x="191.6" y="233.3">)</text>
<text x="198.1" y="233.3">when</text>
<text x="238" y="233.3" font-family="'Liberation Serif', 'Times New Roman', serif" font-style="italic" font-size="16">ω</text>
<text x="252.4" y="233.3">=</text>
<text x="264.1" y="233.3">2.4 GHz</text>
</g>
<defs><clipPath id="ins"><rect x="189.6" y="244.6" width="128.6" height="120"/></clipPath>
<clipPath id="unit"><ellipse cx="299" cy="249" rx="92" ry="101.5"/></clipPath></defs>
<rect x="189.6" y="244.6" width="128.6" height="120" fill="#fff"/>
<g clip-path="url(#ins)"><g fill="none" stroke="#777" stroke-width="0.7">
<ellipse cx="299" cy="249" rx="92" ry="101.5"/>
<ellipse cx="314.3" cy="249" rx="76.7" ry="84.6"/>
<ellipse cx="329.7" cy="249" rx="61.3" ry="67.7"/>
<ellipse cx="345" cy="249" rx="46" ry="50.8"/>
<ellipse cx="360.3" cy="249" rx="30.7" ry="33.8"/>
<ellipse cx="375.7" cy="249" rx="15.3" ry="16.9"/>
<path d="M207 249H391"/>
<g clip-path="url(#unit)">
<ellipse cx="391" cy="756.5" rx="460" ry="507.5"/>
<ellipse cx="391" cy="452" rx="184" ry="203"/>
<ellipse cx="391" cy="350.5" rx="92" ry="101.5"/>
<ellipse cx="391" cy="299.8" rx="46" ry="50.8"/>
<ellipse cx="391" cy="269.3" rx="18.4" ry="20.3"/>
</g></g>
<g font-family="'Liberation Sans', Arial, sans-serif" font-size="5.6" font-weight="bold" fill="#111" text-anchor="middle" stroke="#fff" stroke-width="1.6" paint-order="stroke">
<text x="198.5" y="251">0.0</text>
<text x="232" y="251">0.2</text>
<text x="267.7" y="251">0.5</text>
<text x="299" y="251">1.0</text>
</g><g font-family="'Liberation Sans', Arial, sans-serif" font-size="4.6" font-weight="bold" fill="#111" text-anchor="middle">
<text x="205.6" y="291.4">-0.2</text>
<text x="238.4" y="341.2">-0.5</text>
<text x="306.6" y="363.2">-1.0</text>
</g>
<path d="M209.3 271.3L209.9 274.2L210.6 277.2L211.4 280L212.3 282.9L213.2 285.7L214.3 288.5L215.4 291.3L216.5 294L217.8 296.7L219.1 299.4L220.5 302L222 304.5L223.5 307L225.1 309.5L226.8 311.9L228.5 314.2L230.3 316.5L232.1 318.7L234 320.9L236 323L238 325L240.1 327L242.2 328.9L244.4 330.7" fill="none" stroke="#f00" stroke-width="2.3"/>
<circle cx="207.4" cy="271.8" r="4.4" fill="#fff" stroke="#f00" stroke-width="1.5"/>
<circle cx="228.8" cy="314.1" r="4.9" fill="#f00"/>
<circle cx="244.8" cy="330.1" r="4.2" fill="#000" stroke="#f00" stroke-width="1.4"/>
<path d="M220.8 271.1L248.3 310.5" stroke="#000" stroke-width="3.1" fill="none"/><path d="M253.4 317.9L241.1 311.2L248.3 310.5L251.4 304.1Z" fill="#000"/>
</g>
<rect x="189.6" y="244.6" width="128.6" height="120" fill="none" stroke="#000" stroke-width="1.4"/>
<text x="238" y="291.5" font-family="'Liberation Serif', 'Times New Roman', serif" font-size="22.4" fill="#000">Anti-clockwise</text>
</svg>
</body></html>
